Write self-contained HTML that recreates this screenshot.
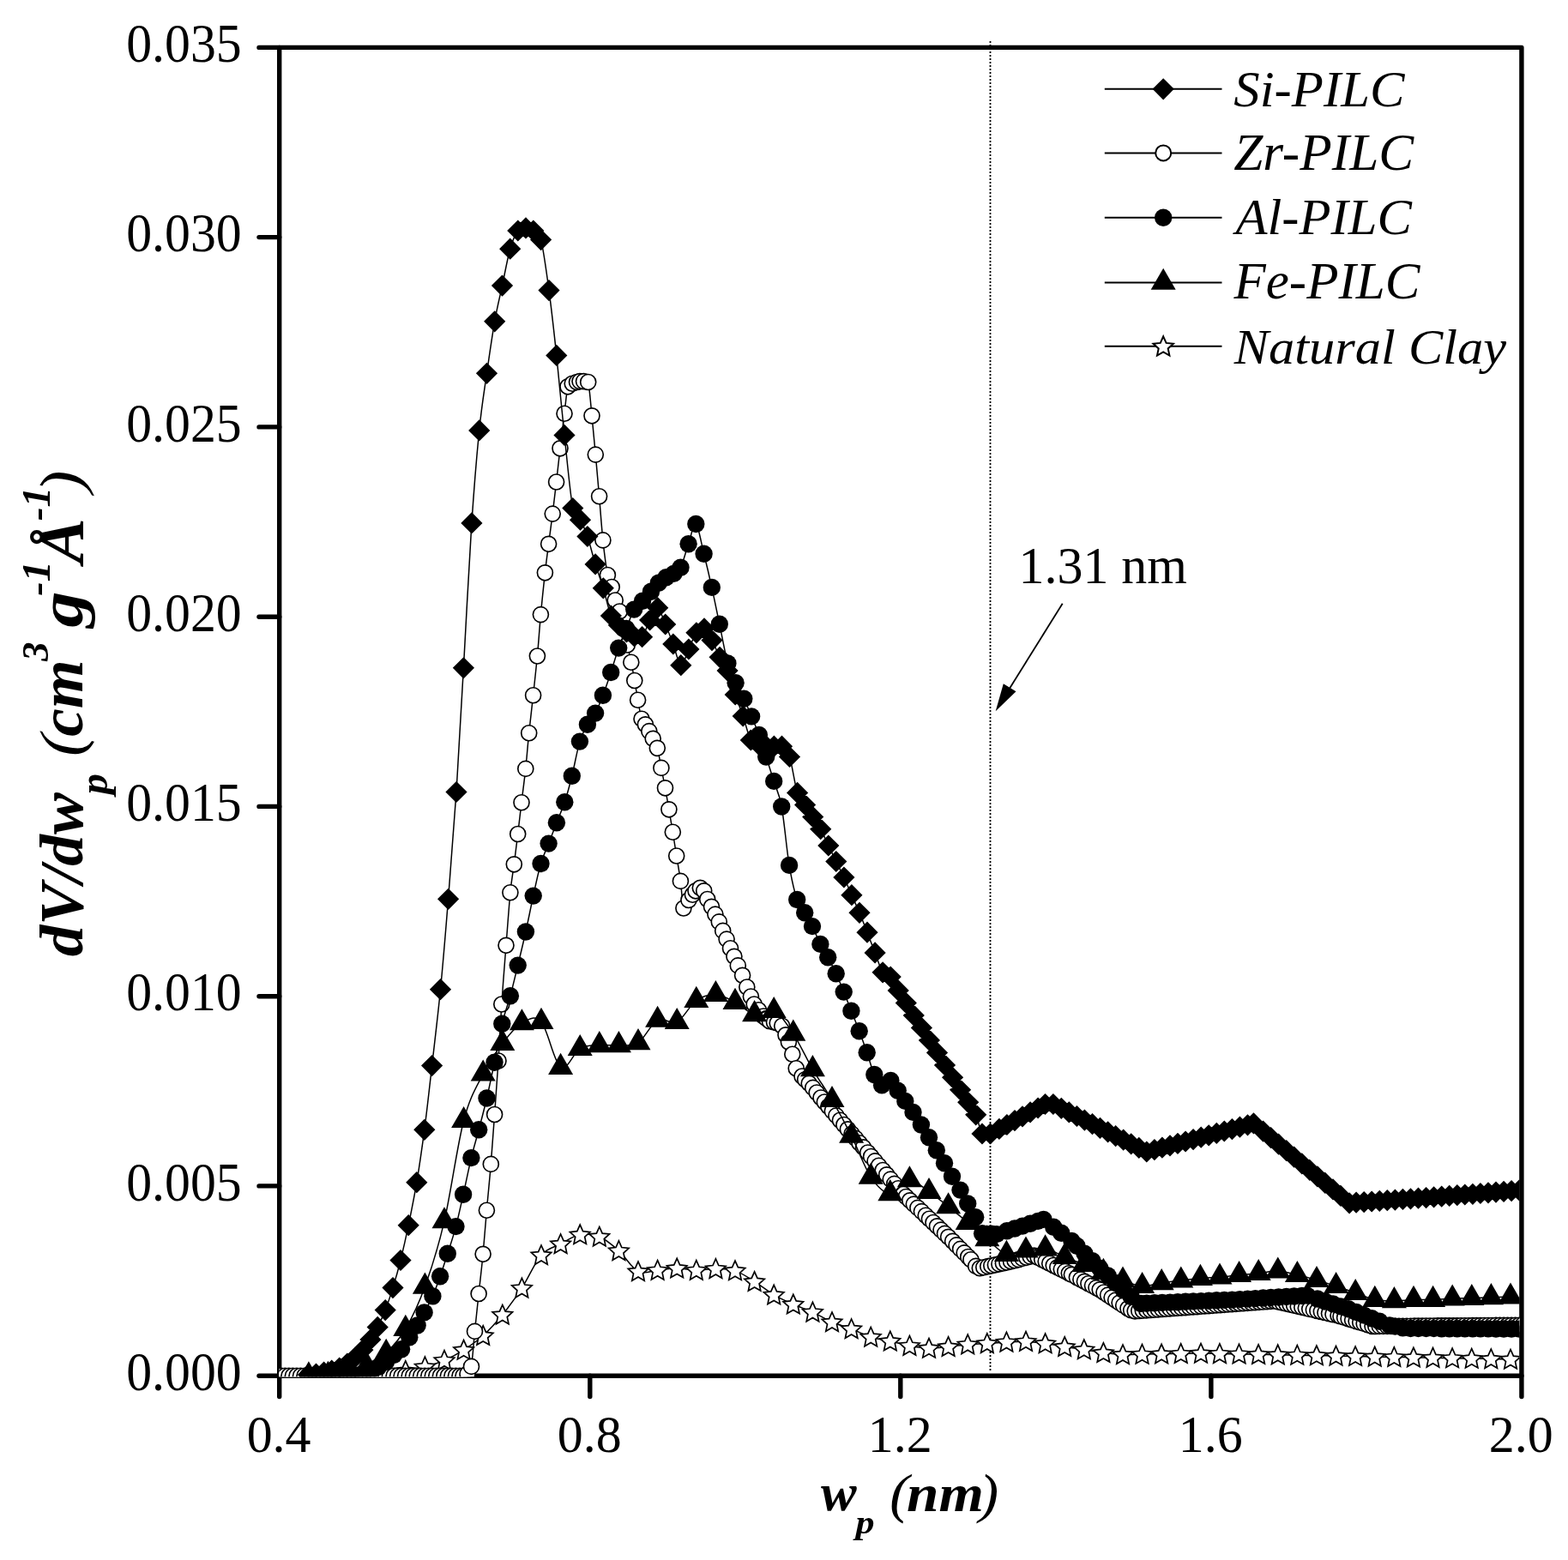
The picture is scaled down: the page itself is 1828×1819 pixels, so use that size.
<!DOCTYPE html>
<html><head><meta charset="utf-8"><title>dV/dw pore size distribution</title><style>
html,body{margin:0;padding:0;background:#fff;}
svg{display:block;}
text{font-family:&quot;Liberation Serif&quot;,&quot;Times New Roman&quot;,serif;fill:#000;}
</style></head><body>
<svg width="1828" height="1819" viewBox="0 0 1828 1819">
<rect width="1828" height="1819" fill="#fff"/>
<line x1="1154.5" y1="48" x2="1154.5" y2="1598" stroke="#000" stroke-width="1.8" stroke-dasharray="2 2"/>
<g stroke="#000" stroke-width="5.4" stroke-linecap="round" fill="none">
<rect x="325.7" y="55.4" width="1448.2" height="1548.8" stroke-linejoin="round"/>
<line x1="302" y1="1604.2" x2="325.7" y2="1604.2"/><line x1="302" y1="1382.9" x2="325.7" y2="1382.9"/><line x1="302" y1="1161.7" x2="325.7" y2="1161.7"/><line x1="302" y1="940.4" x2="325.7" y2="940.4"/><line x1="302" y1="719.2" x2="325.7" y2="719.2"/><line x1="302" y1="497.9" x2="325.7" y2="497.9"/><line x1="302" y1="276.6" x2="325.7" y2="276.6"/><line x1="302" y1="55.4" x2="325.7" y2="55.4"/>
<line x1="325.7" y1="1604.2" x2="325.7" y2="1628.5"/><line x1="687.8" y1="1604.2" x2="687.8" y2="1628.5"/><line x1="1049.8" y1="1604.2" x2="1049.8" y2="1628.5"/><line x1="1411.9" y1="1604.2" x2="1411.9" y2="1628.5"/><line x1="1773.9" y1="1604.2" x2="1773.9" y2="1628.5"/>
</g>
<clipPath id="c"><rect x="325.3" y="55.4" width="1446.2" height="1549.8999999999999"/></clipPath>
<g clip-path="url(#c)"><g fill="none" stroke="#000" stroke-width="1.5"><path d="M472.8 1598.3C476.6 1597.5 487.9 1595.7 495.4 1593.7C502.9 1591.7 510.5 1589.5 518 1586.2C525.5 1582.9 533.1 1578.9 540.6 1574.1C548.1 1569.3 555.7 1564.1 563.2 1557.3C570.7 1550.5 578.3 1542.2 585.8 1533C593.3 1523.8 600.9 1513.5 608.4 1501.9C615.9 1490.3 623.5 1472.1 631 1463.5C638.5 1454.9 646.1 1454.5 653.6 1450.5C661.1 1446.5 668.7 1441 676.2 1439.6C683.7 1438.2 691.3 1438.9 698.8 1442C706.3 1445.1 713.9 1451.7 721.4 1458.4C728.9 1465.2 736.5 1478.7 744 1482.5C751.5 1486.3 759.1 1481.8 766.6 1481.2C774.1 1480.6 781.7 1478.8 789.2 1478.8C796.7 1478.8 804.3 1481.1 811.8 1481.2C819.3 1481.3 826.9 1479.3 834.4 1479.4C841.9 1479.5 849.5 1479.1 857 1481.6C864.5 1484.1 872.1 1489.6 879.6 1494.3C887.1 1499 894.7 1505.4 902.2 1509.8C909.7 1514.2 917.3 1517.4 924.8 1520.8C932.3 1524.2 939.9 1526.5 947.4 1529.9C954.9 1533.4 962.5 1538.2 970 1541.5C977.5 1544.8 985.1 1546.6 992.6 1549.5C1000.1 1552.4 1007.7 1556.6 1015.2 1559C1022.7 1561.4 1030.3 1562.1 1037.8 1563.8C1045.3 1565.5 1052.9 1567.8 1060.4 1569.2C1067.9 1570.6 1075.5 1571.9 1083 1572.1C1090.5 1572.3 1098.1 1571 1105.6 1570.3C1113.1 1569.6 1120.7 1568.3 1128.2 1567.7C1135.7 1567.1 1143.3 1566.9 1150.8 1566.4C1158.3 1565.9 1165.9 1565.3 1173.4 1564.9C1180.9 1564.5 1188.5 1563.9 1196 1564.2C1203.5 1564.5 1211.1 1565.6 1218.6 1566.6C1226.1 1567.6 1233.7 1569.1 1241.2 1570.3C1248.7 1571.5 1256.3 1572.4 1263.8 1573.6C1271.3 1574.8 1278.9 1576.3 1286.4 1577.3C1293.9 1578.3 1301.5 1579.2 1309 1579.5C1316.5 1579.8 1324 1579.3 1331.5 1579.1C1339.1 1579 1346.6 1578.9 1354.1 1578.8C1361.7 1578.6 1369.1 1578.5 1376.7 1578.4C1384.4 1578.3 1392.5 1578 1400 1578C1407.5 1578 1414.5 1578.3 1421.9 1578.4C1429.3 1578.6 1437 1578.7 1444.5 1578.9C1452.1 1579 1459.6 1579.2 1467.1 1579.3C1474.7 1579.4 1482.2 1579.6 1489.7 1579.7C1497.3 1579.9 1504.8 1580 1512.3 1580.2C1519.9 1580.3 1527.4 1580.5 1534.9 1580.6C1542.5 1580.8 1550 1580.9 1557.5 1581.1C1565 1581.2 1572.6 1581.3 1580.1 1581.5C1587.6 1581.6 1595.2 1581.8 1602.7 1581.9C1610.2 1582.1 1617.8 1582.2 1625.3 1582.4C1632.8 1582.5 1640.4 1582.7 1647.9 1582.8C1655.4 1583 1663 1583.1 1670.5 1583.2C1678 1583.4 1685.6 1583.5 1693.1 1583.7C1700.6 1583.8 1708.2 1584 1715.7 1584.1C1723.2 1584.3 1730.8 1584.4 1738.3 1584.6C1745.8 1584.7 1757.2 1584.9 1761 1585"/></g><g fill="#fff" stroke="#000" stroke-width="1.7" stroke-linejoin="miter"><path d="M472.8 1586.8L476.2 1594.4L484.5 1595.3L478.3 1600.9L480 1609.1L472.8 1604.9L465.6 1609.1L467.3 1600.9L461.1 1595.3L469.4 1594.4Z"/><path d="M495.4 1582.2L498.8 1589.8L507.1 1590.7L500.9 1596.3L502.6 1604.5L495.4 1600.3L488.2 1604.5L489.9 1596.3L483.7 1590.7L492 1589.8Z"/><path d="M518 1574.7L521.4 1582.3L529.7 1583.2L523.5 1588.8L525.2 1597L518 1592.8L510.8 1597L512.5 1588.8L506.3 1583.2L514.6 1582.3Z"/><path d="M540.6 1562.6L544 1570.2L552.3 1571.1L546.1 1576.7L547.8 1584.9L540.6 1580.7L533.4 1584.9L535.1 1576.7L528.9 1571.1L537.2 1570.2Z"/><path d="M563.2 1545.8L566.6 1553.4L574.9 1554.3L568.7 1559.9L570.4 1568.1L563.2 1563.9L556 1568.1L557.7 1559.9L551.5 1554.3L559.8 1553.4Z"/><path d="M585.8 1521.5L589.2 1529.1L597.5 1530L591.3 1535.6L593 1543.8L585.8 1539.6L578.6 1543.8L580.3 1535.6L574.1 1530L582.4 1529.1Z"/><path d="M608.4 1490.4L611.8 1498L620.1 1498.9L613.9 1504.5L615.6 1512.7L608.4 1508.5L601.2 1512.7L602.9 1504.5L596.7 1498.9L605 1498Z"/><path d="M631 1452L634.4 1459.6L642.7 1460.5L636.5 1466.1L638.2 1474.3L631 1470.1L623.8 1474.3L625.5 1466.1L619.3 1460.5L627.6 1459.6Z"/><path d="M653.6 1439L657 1446.6L665.3 1447.5L659.1 1453.1L660.8 1461.3L653.6 1457.1L646.4 1461.3L648.1 1453.1L641.9 1447.5L650.2 1446.6Z"/><path d="M676.2 1428.1L679.6 1435.7L687.9 1436.6L681.7 1442.2L683.4 1450.4L676.2 1446.2L669 1450.4L670.7 1442.2L664.5 1436.6L672.8 1435.7Z"/><path d="M698.8 1430.5L702.2 1438.1L710.5 1439L704.3 1444.6L706 1452.8L698.8 1448.6L691.6 1452.8L693.3 1444.6L687.1 1439L695.4 1438.1Z"/><path d="M721.4 1446.9L724.8 1454.5L733.1 1455.4L726.9 1461L728.6 1469.2L721.4 1465L714.2 1469.2L715.9 1461L709.7 1455.4L718 1454.5Z"/><path d="M744 1471L747.4 1478.6L755.7 1479.5L749.5 1485.1L751.2 1493.3L744 1489.1L736.8 1493.3L738.5 1485.1L732.3 1479.5L740.6 1478.6Z"/><path d="M766.6 1469.7L770 1477.3L778.3 1478.2L772.1 1483.8L773.8 1492L766.6 1487.8L759.4 1492L761.1 1483.8L754.9 1478.2L763.2 1477.3Z"/><path d="M789.2 1467.3L792.6 1474.9L800.9 1475.8L794.7 1481.4L796.4 1489.6L789.2 1485.4L782 1489.6L783.7 1481.4L777.5 1475.8L785.8 1474.9Z"/><path d="M811.8 1469.7L815.2 1477.3L823.5 1478.2L817.3 1483.8L819 1492L811.8 1487.8L804.6 1492L806.3 1483.8L800.1 1478.2L808.4 1477.3Z"/><path d="M834.4 1467.9L837.8 1475.5L846.1 1476.4L839.9 1482L841.6 1490.2L834.4 1486L827.2 1490.2L828.9 1482L822.7 1476.4L831 1475.5Z"/><path d="M857 1470.1L860.4 1477.7L868.7 1478.6L862.5 1484.2L864.2 1492.4L857 1488.2L849.8 1492.4L851.5 1484.2L845.3 1478.6L853.6 1477.7Z"/><path d="M879.6 1482.8L883 1490.4L891.3 1491.3L885.1 1496.9L886.8 1505.1L879.6 1500.9L872.4 1505.1L874.1 1496.9L867.9 1491.3L876.2 1490.4Z"/><path d="M902.2 1498.3L905.6 1505.9L913.9 1506.8L907.7 1512.4L909.4 1520.6L902.2 1516.4L895 1520.6L896.7 1512.4L890.5 1506.8L898.8 1505.9Z"/><path d="M924.8 1509.3L928.2 1516.9L936.5 1517.8L930.3 1523.4L932 1531.6L924.8 1527.4L917.6 1531.6L919.3 1523.4L913.1 1517.8L921.4 1516.9Z"/><path d="M947.4 1518.4L950.8 1526L959.1 1526.9L952.9 1532.5L954.6 1540.7L947.4 1536.5L940.2 1540.7L941.9 1532.5L935.7 1526.9L944 1526Z"/><path d="M970 1530L973.4 1537.6L981.7 1538.5L975.5 1544.1L977.2 1552.3L970 1548.1L962.8 1552.3L964.5 1544.1L958.3 1538.5L966.6 1537.6Z"/><path d="M992.6 1538L996 1545.6L1004.3 1546.5L998.1 1552.1L999.8 1560.3L992.6 1556.1L985.4 1560.3L987.1 1552.1L980.9 1546.5L989.2 1545.6Z"/><path d="M1015.2 1547.5L1018.6 1555.1L1026.9 1556L1020.7 1561.6L1022.4 1569.8L1015.2 1565.6L1008 1569.8L1009.7 1561.6L1003.5 1556L1011.8 1555.1Z"/><path d="M1037.8 1552.3L1041.2 1559.9L1049.5 1560.8L1043.3 1566.4L1045 1574.6L1037.8 1570.4L1030.6 1574.6L1032.3 1566.4L1026.1 1560.8L1034.4 1559.9Z"/><path d="M1060.4 1557.7L1063.8 1565.3L1072.1 1566.2L1065.9 1571.8L1067.6 1580L1060.4 1575.8L1053.2 1580L1054.9 1571.8L1048.7 1566.2L1057 1565.3Z"/><path d="M1083 1560.6L1086.4 1568.2L1094.7 1569.1L1088.5 1574.7L1090.2 1582.9L1083 1578.7L1075.8 1582.9L1077.5 1574.7L1071.3 1569.1L1079.6 1568.2Z"/><path d="M1105.6 1558.8L1109 1566.4L1117.3 1567.3L1111.1 1572.9L1112.8 1581.1L1105.6 1576.9L1098.4 1581.1L1100.1 1572.9L1093.9 1567.3L1102.2 1566.4Z"/><path d="M1128.2 1556.2L1131.6 1563.8L1139.9 1564.7L1133.7 1570.3L1135.4 1578.5L1128.2 1574.3L1121 1578.5L1122.7 1570.3L1116.5 1564.7L1124.8 1563.8Z"/><path d="M1150.8 1554.9L1154.2 1562.5L1162.5 1563.4L1156.3 1569L1158 1577.2L1150.8 1573L1143.6 1577.2L1145.3 1569L1139.1 1563.4L1147.4 1562.5Z"/><path d="M1173.4 1553.4L1176.8 1561L1185.1 1561.9L1178.9 1567.5L1180.6 1575.7L1173.4 1571.5L1166.2 1575.7L1167.9 1567.5L1161.7 1561.9L1170 1561Z"/><path d="M1196 1552.7L1199.4 1560.3L1207.7 1561.2L1201.5 1566.8L1203.2 1575L1196 1570.8L1188.8 1575L1190.5 1566.8L1184.3 1561.2L1192.6 1560.3Z"/><path d="M1218.6 1555.1L1222 1562.7L1230.3 1563.6L1224.1 1569.2L1225.8 1577.4L1218.6 1573.2L1211.4 1577.4L1213.1 1569.2L1206.9 1563.6L1215.2 1562.7Z"/><path d="M1241.2 1558.8L1244.6 1566.4L1252.9 1567.3L1246.7 1572.9L1248.4 1581.1L1241.2 1576.9L1234 1581.1L1235.7 1572.9L1229.5 1567.3L1237.8 1566.4Z"/><path d="M1263.8 1562.1L1267.2 1569.7L1275.5 1570.6L1269.3 1576.2L1271 1584.4L1263.8 1580.2L1256.6 1584.4L1258.3 1576.2L1252.1 1570.6L1260.4 1569.7Z"/><path d="M1286.4 1565.8L1289.8 1573.4L1298.1 1574.3L1291.9 1579.9L1293.6 1588.1L1286.4 1583.9L1279.2 1588.1L1280.9 1579.9L1274.7 1574.3L1283 1573.4Z"/><path d="M1309 1568L1312.4 1575.6L1320.7 1576.5L1314.5 1582.1L1316.2 1590.3L1309 1586.1L1301.8 1590.3L1303.5 1582.1L1297.3 1576.5L1305.6 1575.6Z"/><path d="M1331.5 1567.6L1334.9 1575.3L1343.2 1576.1L1337 1581.7L1338.8 1589.9L1331.5 1585.7L1324.3 1589.9L1326 1581.7L1319.8 1576.1L1328.1 1575.3Z"/><path d="M1354.1 1567.3L1357.5 1574.9L1365.8 1575.8L1359.6 1581.3L1361.4 1589.5L1354.1 1585.3L1346.9 1589.5L1348.6 1581.3L1342.4 1575.8L1350.7 1574.9Z"/><path d="M1376.7 1566.9L1380.1 1574.5L1388.4 1575.4L1382.2 1581L1384 1589.1L1376.7 1585L1369.5 1589.1L1371.2 1581L1365 1575.4L1373.3 1574.5Z"/><path d="M1400 1566.5L1403.4 1574.1L1411.7 1575L1405.5 1580.6L1407.2 1588.8L1400 1584.6L1392.8 1588.8L1394.5 1580.6L1388.3 1575L1396.6 1574.1Z"/><path d="M1421.9 1566.9L1425.3 1574.5L1433.6 1575.4L1427.4 1581L1429.2 1589.2L1421.9 1585L1414.7 1589.2L1416.4 1581L1410.2 1575.4L1418.5 1574.5Z"/><path d="M1444.5 1567.4L1447.9 1575L1456.2 1575.9L1450 1581.4L1451.8 1589.6L1444.5 1585.4L1437.3 1589.6L1439 1581.4L1432.8 1575.9L1441.1 1575Z"/><path d="M1467.1 1567.8L1470.5 1575.4L1478.8 1576.3L1472.6 1581.9L1474.4 1590.1L1467.1 1585.9L1459.9 1590.1L1461.6 1581.9L1455.4 1576.3L1463.7 1575.4Z"/><path d="M1489.7 1568.2L1493.1 1575.9L1501.4 1576.7L1495.2 1582.3L1497 1590.5L1489.7 1586.3L1482.5 1590.5L1484.2 1582.3L1478 1576.7L1486.3 1575.9Z"/><path d="M1512.3 1568.7L1515.7 1576.3L1524 1577.2L1517.8 1582.8L1519.5 1590.9L1512.3 1586.8L1505.1 1590.9L1506.8 1582.8L1500.6 1577.2L1508.9 1576.3Z"/><path d="M1534.9 1569.1L1538.3 1576.7L1546.6 1577.6L1540.4 1583.2L1542.1 1591.4L1534.9 1587.2L1527.7 1591.4L1529.4 1583.2L1523.2 1577.6L1531.5 1576.7Z"/><path d="M1557.5 1569.6L1560.9 1577.2L1569.2 1578.1L1563 1583.6L1564.7 1591.8L1557.5 1587.6L1550.3 1591.8L1552 1583.6L1545.8 1578.1L1554.1 1577.2Z"/><path d="M1580.1 1570L1583.5 1577.6L1591.8 1578.5L1585.6 1584.1L1587.3 1592.2L1580.1 1588.1L1572.9 1592.2L1574.6 1584.1L1568.4 1578.5L1576.7 1577.6Z"/><path d="M1602.7 1570.4L1606.1 1578.1L1614.4 1578.9L1608.2 1584.5L1609.9 1592.7L1602.7 1588.5L1595.5 1592.7L1597.2 1584.5L1591 1578.9L1599.3 1578.1Z"/><path d="M1625.3 1570.9L1628.7 1578.5L1637 1579.4L1630.8 1585L1632.5 1593.1L1625.3 1588.9L1618.1 1593.1L1619.8 1585L1613.6 1579.4L1621.9 1578.5Z"/><path d="M1647.9 1571.3L1651.3 1578.9L1659.6 1579.8L1653.4 1585.4L1655.1 1593.6L1647.9 1589.4L1640.7 1593.6L1642.4 1585.4L1636.2 1579.8L1644.5 1578.9Z"/><path d="M1670.5 1571.7L1673.9 1579.4L1682.2 1580.2L1676 1585.8L1677.7 1594L1670.5 1589.8L1663.3 1594L1665 1585.8L1658.8 1580.2L1667.1 1579.4Z"/><path d="M1693.1 1572.2L1696.5 1579.8L1704.8 1580.7L1698.6 1586.3L1700.3 1594.4L1693.1 1590.3L1685.9 1594.4L1687.6 1586.3L1681.4 1580.7L1689.7 1579.8Z"/><path d="M1715.7 1572.6L1719.1 1580.2L1727.4 1581.1L1721.2 1586.7L1722.9 1594.9L1715.7 1590.7L1708.5 1594.9L1710.2 1586.7L1704 1581.1L1712.3 1580.2Z"/><path d="M1738.3 1573.1L1741.7 1580.7L1750 1581.6L1743.8 1587.1L1745.5 1595.3L1738.3 1591.1L1731.1 1595.3L1732.8 1587.1L1726.6 1581.6L1734.9 1580.7Z"/><path d="M1761 1573.5L1764.4 1581.1L1772.7 1582L1766.5 1587.6L1768.2 1595.8L1761 1591.6L1753.8 1595.8L1755.5 1587.6L1749.3 1582L1757.6 1581.1Z"/></g><g fill="none" stroke="#000" stroke-width="1.5"><path d="M327.9 1604.2C328.6 1604.2 330.9 1604.2 332.4 1604.2C333.9 1604.2 335.4 1604.2 336.9 1604.2C338.4 1604.2 339.9 1604.2 341.4 1604.2C342.9 1604.2 344.4 1604.2 346 1604.2C347.5 1604.2 349 1604.2 350.5 1604.2C352 1604.2 353.5 1604.2 355 1604.2C356.5 1604.2 358 1604.2 359.5 1604.2C361 1604.2 362.5 1604.2 364 1604.2C365.6 1604.2 367.1 1604.2 368.6 1604.2C370.1 1604.2 371.6 1604.2 373.1 1604.2C374.6 1604.2 376.1 1604.2 377.6 1604.2C379.1 1604.2 380.6 1604.2 382.1 1604.2C383.7 1604.2 385.2 1604.2 386.7 1604.2C388.2 1604.2 389.7 1604.2 391.2 1604.2C392.7 1604.2 394.2 1604.2 395.7 1604.2C397.2 1604.2 398.7 1604.2 400.2 1604.2C401.8 1604.2 403.3 1604.2 404.8 1604.2C406.3 1604.2 407.8 1604.2 409.3 1604.2C410.8 1604.2 412.3 1604.2 413.8 1604.2C415.3 1604.2 416.8 1604.2 418.3 1604.2C419.9 1604.2 421.4 1604.2 422.9 1604.2C424.4 1604.2 425.9 1604.2 427.4 1604.2C428.9 1604.2 430.4 1604.2 431.9 1604.2C433.4 1604.2 434.9 1604.2 436.4 1604.2C437.9 1604.2 439.5 1604.2 441 1604.2C442.5 1604.2 444 1604.2 445.5 1604.2C447 1604.2 448.5 1604.2 450 1604.2C451.5 1604.2 453 1604.2 454.5 1604.2C456 1604.2 457.6 1604.2 459.1 1604.2C460.6 1604.2 462.1 1604.2 463.6 1604.2C465.1 1604.2 466.6 1604.2 468.1 1604.2C469.6 1604.2 471.1 1604.2 472.6 1604.2C474.1 1604.2 475.7 1604.2 477.2 1604.2C478.7 1604.2 480.2 1604.2 481.7 1604.2C483.2 1604.2 484.7 1604.2 486.2 1604.2C487.7 1604.2 489.2 1604.2 490.7 1604.2C492.2 1604.2 493.8 1604.2 495.3 1604.2C496.8 1604.2 498.3 1604.2 499.8 1604.2C501.3 1604.2 502.8 1604.2 504.3 1604.2C505.8 1604.2 507.3 1604.2 508.8 1604.2C510.3 1604.2 511.8 1604.2 513.4 1604.2C514.9 1604.2 516.4 1604.2 517.9 1604.2C519.4 1604.2 520.9 1604.2 522.4 1604.2C523.9 1604.2 525.4 1604.2 526.9 1604.2C528.4 1604.2 529.9 1604.2 531.5 1604.2C533 1604.2 534.6 1604.2 536 1604.2C537.4 1604.2 538.5 1604.6 540 1604.2C541.5 1603.8 543.4 1603.8 545 1602C546.6 1600.2 548.1 1601.7 549.5 1593.4C550.9 1585.1 552.1 1566.6 553.5 1552.4C554.9 1538.2 556.5 1523.5 558.1 1508.5C559.7 1493.5 561.6 1478.5 563.1 1462.3C564.6 1446.1 565.9 1428.7 567.4 1411.2C568.9 1393.7 570.8 1376 572.3 1357.4C573.8 1338.8 575.1 1319.6 576.6 1299.5C578.1 1279.4 579.6 1258.4 581 1237C582.4 1215.6 583.3 1193.5 584.8 1171C586.3 1148.5 588.3 1124 590 1102.3C591.7 1080.6 593.4 1056.5 594.9 1040.7C596.4 1025 597.8 1019.2 599.3 1007.8C600.8 996.4 602.2 984.5 603.7 972.5C605.2 960.5 606.5 948.4 608 935.7C609.5 923 611.3 909.9 612.8 896.4C614.2 882.9 615.2 869 616.7 854.7C618.2 840.4 620 825.7 621.6 810.7C623.2 795.8 624.9 780.7 626.4 765C627.9 749.3 628.9 732.8 630.4 716.6C631.9 700.4 633.9 681.5 635.4 667.8C636.9 654.1 638.1 645.8 639.6 634.3C641.1 622.8 642.7 611.1 644.2 599.1C645.7 587.1 647.1 574.7 648.6 562C650.1 549.3 651.4 536.1 653 522.8C654.6 509.5 656.5 494.2 658 482.2C659.5 470.2 660.5 456.6 662 450.8C663.5 445 665.4 448.1 667.2 447.2C668.9 446.3 671 445.9 672.5 445.5C674 445.1 674.7 444.8 676 444.6C677.3 444.5 678.9 444.5 680.5 444.6C682.1 444.8 684.1 438.8 685.7 445.5C687.3 452.2 688.6 470.7 690 484.8C691.4 498.9 692.9 514.5 694.3 530.1C695.7 545.8 697.2 562.1 698.6 578.7C700 595.3 701.3 614.6 702.9 629.9C704.5 645.2 706.7 661.4 708.4 670.5C710.1 679.6 711.7 679.6 713.2 684.5C714.7 689.4 715.7 695.2 717.2 700C718.7 704.8 720.7 707.5 722.3 713C723.9 718.5 725.3 726.5 726.8 733C728.3 739.5 729.8 745.5 731.3 752C732.8 758.5 734.4 765.3 735.8 772.2C737.2 779.1 738.5 786.2 739.8 793.5C741.1 800.8 742.2 808.8 743.6 816.2C745 823.7 746.5 833.4 748 838.2C749.5 843 750.9 842.4 752.4 844.8C753.9 847.2 755.3 849.9 756.8 852.6C758.3 855.4 759.6 858 761.2 861.3C762.8 864.6 764.7 866.6 766.3 872.3C767.9 878 769.4 887.6 770.9 895.4C772.4 903.1 774 910.7 775.5 918.8C777 926.9 778.4 935.2 779.9 943.8C781.4 952.4 782.8 961.2 784.3 970.2C785.8 979.2 787.2 988.5 788.7 998C790.2 1007.5 792 1017.2 793.4 1027.4C794.8 1037.6 795.3 1055.3 796.9 1059C798.5 1062.7 801.2 1052.2 802.9 1049.5C804.7 1046.9 806.1 1045 807.4 1043.2C808.8 1041.4 809.5 1040.1 811 1038.8C812.5 1037.5 814.7 1035.3 816.3 1035.3C817.9 1035.3 819.3 1036.6 820.7 1038.8C822.1 1041 823.2 1045.4 824.7 1048.5C826.2 1051.6 828 1054.4 829.5 1057.3C831 1060.2 832.4 1063.2 833.9 1066.1C835.4 1069 836.8 1071.7 838.3 1074.9C839.8 1078.1 841.2 1082 842.7 1085.4C844.2 1088.8 845.6 1091.7 847.1 1095.1C848.6 1098.5 850 1102.3 851.5 1105.7C853 1109.1 854.4 1111.9 855.9 1115.3C857.4 1118.7 858.7 1122.2 860.3 1125.9C861.9 1129.6 863.9 1133.1 865.6 1137.3C867.4 1141.5 869.2 1146.9 870.8 1151C872.4 1155.1 874 1158.7 875.4 1162C876.8 1165.3 877.7 1168.4 879.2 1171C880.7 1173.6 882.6 1175.4 884.4 1177.7C886.2 1180 888.5 1183.3 890 1185C891.5 1186.7 892.2 1186.7 893.4 1187.6C894.6 1188.6 895.9 1190 897.4 1190.7C898.9 1191.4 901 1191.6 902.5 1192C903.9 1192.4 904.7 1192.3 906.2 1193C907.7 1193.7 910.1 1193.9 911.7 1196.2C913.3 1198.5 914.8 1203.7 916 1206.8C917.3 1209.9 918.1 1211.3 919.4 1215C920.7 1218.7 922.3 1224.1 923.8 1229.2C925.3 1234.3 926.3 1241.4 928.2 1245.7C930.1 1250 933.3 1252.8 935 1255C936.7 1257.2 937.3 1257.3 938.7 1258.7C940 1260 941.7 1261.6 943.2 1263.2C944.7 1264.8 946.2 1266.6 947.7 1268.4C949.2 1270.2 950.7 1272.1 952.2 1274C953.8 1276 955.5 1278.2 957 1280C958.5 1281.8 959.8 1283.3 961.3 1285C962.8 1286.7 964.3 1288.5 965.8 1290.3C967.3 1292.1 968.8 1293.8 970.3 1295.6C971.8 1297.4 973.3 1299.1 974.9 1300.9C976.4 1302.7 977.9 1304.4 979.4 1306.2C980.9 1308 982.4 1309.7 983.9 1311.5C985.4 1313.2 986.9 1315 988.4 1316.8C989.9 1318.5 991.4 1320.3 993 1322.1C994.5 1323.8 996 1325.6 997.5 1327.4C999 1329.1 1000.5 1330.9 1002 1332.7C1003.5 1334.4 1004.9 1336.1 1006.5 1337.9C1008.1 1339.8 1010.2 1342.2 1011.7 1344C1013.2 1345.8 1014.2 1346.9 1015.6 1348.5C1017 1350.2 1018.6 1352.1 1020.1 1353.9C1021.6 1355.6 1023.1 1357.4 1024.6 1359.2C1026.1 1360.9 1027.6 1362.7 1029.2 1364.5C1030.7 1366.2 1032.2 1368 1033.7 1369.8C1035.2 1371.5 1036.7 1373.3 1038.2 1375.1C1039.7 1376.8 1041.2 1378.6 1042.7 1380.4C1044.2 1382.2 1045.6 1383.7 1047.2 1385.7C1048.9 1387.7 1051.3 1390.6 1052.8 1392.2C1054.3 1393.8 1055 1394.2 1056.3 1395.5C1057.6 1396.8 1059.3 1398.4 1060.8 1399.8C1062.3 1401.2 1063.8 1402.7 1065.3 1404.1C1066.9 1405.5 1068.4 1406.9 1069.9 1408.4C1071.4 1409.8 1072.8 1411.2 1074.4 1412.6C1075.9 1414.1 1077.7 1415.8 1079.2 1417.2C1080.7 1418.6 1082 1419.8 1083.4 1421.2C1084.9 1422.6 1086.5 1424.1 1088 1425.5C1089.5 1427 1091 1428.4 1092.5 1429.8C1094 1431.3 1095.5 1432.7 1097 1434.1C1098.5 1435.6 1100.1 1437.1 1101.5 1438.4C1103 1439.8 1104.1 1440.8 1105.6 1442.3C1107.1 1443.8 1109 1445.7 1110.6 1447.3C1112.2 1448.9 1113.6 1450.3 1115.1 1451.9C1116.6 1453.4 1118.1 1454.9 1119.6 1456.4C1121.1 1457.9 1122.7 1459.4 1124.2 1460.9C1125.7 1462.4 1127.4 1464.2 1128.7 1465.5C1130 1466.8 1130.4 1466.9 1131.9 1468.7C1133.4 1470.5 1136 1474.7 1137.7 1476.4C1139.5 1478 1140.8 1478.5 1142.3 1478.7C1143.8 1478.9 1145.2 1478 1146.8 1477.7C1148.4 1477.3 1150.2 1476.9 1151.7 1476.6C1153.2 1476.3 1154.4 1476.1 1155.8 1475.8C1157.3 1475.5 1158.9 1475.2 1160.4 1474.9C1161.9 1474.5 1163.4 1474.2 1164.9 1473.9C1166.4 1473.6 1167.9 1473.3 1169.4 1473C1170.9 1472.7 1172.4 1472.3 1173.9 1472C1175.4 1471.6 1177 1471.2 1178.5 1470.8C1180 1470.5 1181.5 1470.1 1183 1469.7C1184.5 1469.3 1186 1468.9 1187.5 1468.6C1189 1468.2 1190.5 1467.8 1192 1467.4C1193.5 1467 1195 1466.7 1196.6 1466.3C1198.1 1465.9 1199.6 1465.5 1201.1 1465.1C1202.6 1464.8 1204.1 1463.8 1205.6 1464C1207.1 1464.2 1208.6 1465.5 1210.1 1466.3C1211.6 1467.1 1213.1 1467.8 1214.7 1468.6C1216.2 1469.4 1217.7 1470.1 1219.2 1470.9C1220.7 1471.7 1222.2 1472.4 1223.7 1473.2C1225.2 1474 1226.7 1474.8 1228.2 1475.5C1229.7 1476.3 1231.2 1477.1 1232.8 1477.8C1234.3 1478.6 1235.8 1479.4 1237.3 1480.1C1238.8 1480.9 1240.3 1481.7 1241.8 1482.4C1243.3 1483.2 1245.1 1484.1 1246.3 1484.7C1247.6 1485.4 1247.9 1485.5 1249.4 1486.3C1250.9 1487.1 1253.6 1488.6 1255.4 1489.5C1257.1 1490.4 1258.4 1491.1 1259.9 1491.9C1261.4 1492.7 1262.9 1493.5 1264.4 1494.3C1265.9 1495.1 1267.4 1495.9 1268.9 1496.7C1270.5 1497.5 1272 1498.3 1273.5 1499.1C1275 1499.9 1276.5 1500.8 1278 1501.6C1279.5 1502.3 1280.7 1502.9 1282.2 1503.8C1283.7 1504.7 1285.5 1506 1287 1507C1288.6 1508.1 1290.1 1509 1291.6 1510.1C1293.1 1511.1 1294.6 1512.1 1296.1 1513.1C1297.6 1514.1 1299.1 1515.1 1300.6 1516.1C1302.1 1517.1 1303.6 1518.1 1305.1 1519.1C1306.7 1520.1 1308 1521 1309.7 1522.1C1311.3 1523.2 1313.5 1524.8 1315 1525.7C1316.5 1526.6 1317.3 1527.2 1318.7 1527.7C1320.1 1528.3 1321.7 1528.7 1323.2 1528.8C1324.8 1529 1326.3 1528.6 1327.8 1528.5C1329.3 1528.4 1330.8 1528.3 1332.3 1528.2C1333.8 1528.1 1335.3 1528 1336.8 1527.8C1338.3 1527.7 1339.8 1527.6 1341.3 1527.5C1342.8 1527.4 1344.4 1527.3 1345.9 1527.2C1347.4 1527.1 1348.9 1527 1350.4 1526.9C1351.9 1526.8 1353.4 1526.6 1354.9 1526.5C1356.4 1526.4 1357.9 1526.3 1359.4 1526.2C1360.9 1526.1 1362.5 1526 1364 1525.9C1365.5 1525.8 1367 1525.7 1368.5 1525.5C1370 1525.4 1371.5 1525.3 1373 1525.2C1374.5 1525.1 1376 1525 1377.5 1524.9C1379 1524.8 1380.6 1524.7 1382.1 1524.6C1383.6 1524.4 1385.1 1524.3 1386.6 1524.2C1388.1 1524.1 1389.6 1524 1391.1 1523.9C1392.6 1523.8 1394.1 1523.7 1395.6 1523.6C1397.1 1523.5 1398.7 1523.4 1400.2 1523.2C1401.7 1523.1 1403.2 1523 1404.7 1522.9C1406.2 1522.8 1407.7 1522.7 1409.2 1522.6C1410.7 1522.5 1412.2 1522.4 1413.7 1522.3C1415.2 1522.1 1416.7 1522 1418.3 1521.9C1419.8 1521.8 1421.3 1521.7 1422.8 1521.6C1424.3 1521.5 1425.8 1521.4 1427.3 1521.3C1428.8 1521.2 1430.3 1521 1431.8 1520.9C1433.3 1520.8 1434.8 1520.7 1436.4 1520.6C1437.9 1520.5 1439.4 1520.4 1440.9 1520.3C1442.4 1520.2 1443.9 1520.1 1445.4 1520C1446.9 1519.8 1448.4 1519.7 1449.9 1519.6C1451.4 1519.5 1452.9 1519.4 1454.5 1519.3C1456 1519.2 1457.5 1519.1 1459 1519C1460.5 1518.9 1462 1518.7 1463.5 1518.6C1465 1518.5 1466.5 1518.4 1468 1518.3C1469.5 1518.2 1471 1518.1 1472.6 1518C1474.1 1517.9 1475.6 1517.8 1477.1 1517.6C1478.6 1517.5 1480.1 1517.4 1481.6 1517.3C1483.1 1517.2 1484.5 1516.9 1486 1517C1487.5 1517.1 1489.1 1517.7 1490.6 1518.1C1492.2 1518.4 1493.7 1518.8 1495.2 1519.1C1496.7 1519.5 1498.2 1519.8 1499.7 1520.1C1501.2 1520.5 1502.7 1520.8 1504.2 1521.2C1505.7 1521.5 1507.2 1521.9 1508.7 1522.2C1510.3 1522.6 1511.8 1522.9 1513.3 1523.3C1514.8 1523.6 1516.3 1524 1517.8 1524.3C1519.3 1524.7 1520.8 1525 1522.3 1525.3C1523.8 1525.7 1525.3 1526 1526.8 1526.4C1528.4 1526.7 1529.9 1527.1 1531.4 1527.4C1532.9 1527.8 1534.4 1528.1 1535.9 1528.5C1537.4 1528.8 1538.9 1529.2 1540.4 1529.5C1541.9 1529.8 1543.4 1530.2 1544.9 1530.5C1546.5 1530.9 1548 1531.2 1549.5 1531.6C1551 1531.9 1552.2 1532.2 1554 1532.6C1555.7 1533 1558.5 1533.6 1560 1534C1561.5 1534.4 1561.8 1534.6 1563 1535C1564.3 1535.3 1566.1 1535.9 1567.6 1536.4C1569.1 1536.8 1570.6 1537.3 1572.1 1537.8C1573.6 1538.2 1575.1 1538.7 1576.6 1539.2C1578.1 1539.7 1579.6 1540.1 1581.1 1540.6C1582.6 1541.1 1584.2 1541.5 1585.7 1542C1587.2 1542.5 1588.7 1543 1590.2 1543.4C1591.7 1543.9 1593.1 1544.3 1594.7 1544.8C1596.3 1545.4 1598.5 1546.2 1600 1546.5C1601.5 1546.8 1602.4 1546.5 1603.8 1546.5C1605.1 1546.5 1606.8 1546.4 1608.3 1546.4C1609.8 1546.4 1611.3 1546.4 1612.8 1546.4C1614.3 1546.4 1615.8 1546.4 1617.3 1546.4C1618.8 1546.4 1620.4 1546.3 1621.9 1546.3C1623.4 1546.3 1624.9 1546.3 1626.4 1546.3C1627.9 1546.3 1629.4 1546.3 1630.9 1546.3C1632.4 1546.3 1633.9 1546.2 1635.4 1546.2C1636.9 1546.2 1638.4 1546.2 1640 1546.2C1641.5 1546.2 1643 1546.2 1644.5 1546.2C1646 1546.2 1647.5 1546.1 1649 1546.1C1650.5 1546.1 1652 1546.1 1653.5 1546.1C1655 1546.1 1656.5 1546.1 1658.1 1546.1C1659.6 1546.1 1661.1 1546 1662.6 1546C1664.1 1546 1665.6 1546 1667.1 1546C1668.6 1546 1670.1 1546 1671.6 1546C1673.1 1546 1674.6 1545.9 1676.2 1545.9C1677.7 1545.9 1679.2 1545.9 1680.7 1545.9C1682.2 1545.9 1683.7 1545.9 1685.2 1545.9C1686.7 1545.9 1688.2 1545.8 1689.7 1545.8C1691.2 1545.8 1692.7 1545.8 1694.3 1545.8C1695.8 1545.8 1697.3 1545.8 1698.8 1545.8C1700.3 1545.8 1701.8 1545.7 1703.3 1545.7C1704.8 1545.7 1706.3 1545.7 1707.8 1545.7C1709.3 1545.7 1710.8 1545.7 1712.3 1545.7C1713.9 1545.7 1715.4 1545.6 1716.9 1545.6C1718.4 1545.6 1719.9 1545.6 1721.4 1545.6C1722.9 1545.6 1724.4 1545.6 1725.9 1545.6C1727.4 1545.6 1728.9 1545.5 1730.4 1545.5C1732 1545.5 1733.5 1545.5 1735 1545.5C1736.5 1545.5 1738 1545.5 1739.5 1545.5C1741 1545.5 1742.5 1545.4 1744 1545.4C1745.5 1545.4 1747 1545.4 1748.5 1545.4C1750.1 1545.4 1751.6 1545.4 1753.1 1545.4C1754.6 1545.4 1756.1 1545.3 1757.6 1545.3C1759.1 1545.3 1760.6 1545.3 1762.1 1545.3C1763.6 1545.3 1765.1 1545.3 1766.6 1545.3C1768.2 1545.3 1769.8 1545.2 1771.2 1545.2C1772.6 1545.2 1774.4 1545.2 1775 1545.2"/></g><g fill="#fff" stroke="#000" stroke-width="1.65"><circle cx="327.9" cy="1604.2" r="9.0"/><circle cx="332.4" cy="1604.2" r="9.0"/><circle cx="336.9" cy="1604.2" r="9.0"/><circle cx="341.4" cy="1604.2" r="9.0"/><circle cx="346" cy="1604.2" r="9.0"/><circle cx="350.5" cy="1604.2" r="9.0"/><circle cx="355" cy="1604.2" r="9.0"/><circle cx="359.5" cy="1604.2" r="9.0"/><circle cx="364" cy="1604.2" r="9.0"/><circle cx="368.6" cy="1604.2" r="9.0"/><circle cx="373.1" cy="1604.2" r="9.0"/><circle cx="377.6" cy="1604.2" r="9.0"/><circle cx="382.1" cy="1604.2" r="9.0"/><circle cx="386.7" cy="1604.2" r="9.0"/><circle cx="391.2" cy="1604.2" r="9.0"/><circle cx="395.7" cy="1604.2" r="9.0"/><circle cx="400.2" cy="1604.2" r="9.0"/><circle cx="404.8" cy="1604.2" r="9.0"/><circle cx="409.3" cy="1604.2" r="9.0"/><circle cx="413.8" cy="1604.2" r="9.0"/><circle cx="418.3" cy="1604.2" r="9.0"/><circle cx="422.9" cy="1604.2" r="9.0"/><circle cx="427.4" cy="1604.2" r="9.0"/><circle cx="431.9" cy="1604.2" r="9.0"/><circle cx="436.4" cy="1604.2" r="9.0"/><circle cx="441" cy="1604.2" r="9.0"/><circle cx="445.5" cy="1604.2" r="9.0"/><circle cx="450" cy="1604.2" r="9.0"/><circle cx="454.5" cy="1604.2" r="9.0"/><circle cx="459.1" cy="1604.2" r="9.0"/><circle cx="463.6" cy="1604.2" r="9.0"/><circle cx="468.1" cy="1604.2" r="9.0"/><circle cx="472.6" cy="1604.2" r="9.0"/><circle cx="477.2" cy="1604.2" r="9.0"/><circle cx="481.7" cy="1604.2" r="9.0"/><circle cx="486.2" cy="1604.2" r="9.0"/><circle cx="490.7" cy="1604.2" r="9.0"/><circle cx="495.3" cy="1604.2" r="9.0"/><circle cx="499.8" cy="1604.2" r="9.0"/><circle cx="504.3" cy="1604.2" r="9.0"/><circle cx="508.8" cy="1604.2" r="9.0"/><circle cx="513.4" cy="1604.2" r="9.0"/><circle cx="517.9" cy="1604.2" r="9.0"/><circle cx="522.4" cy="1604.2" r="9.0"/><circle cx="526.9" cy="1604.2" r="9.0"/><circle cx="531.5" cy="1604.2" r="9.0"/><circle cx="536" cy="1604.2" r="9.0"/><circle cx="540" cy="1604.2" r="9.0"/><circle cx="545" cy="1602" r="9.0"/><circle cx="549.5" cy="1593.4" r="9.0"/><circle cx="553.5" cy="1552.4" r="9.0"/><circle cx="558.1" cy="1508.5" r="9.0"/><circle cx="563.1" cy="1462.3" r="9.0"/><circle cx="567.4" cy="1411.2" r="9.0"/><circle cx="572.3" cy="1357.4" r="9.0"/><circle cx="576.6" cy="1299.5" r="9.0"/><circle cx="581" cy="1237" r="9.0"/><circle cx="584.8" cy="1171" r="9.0"/><circle cx="590" cy="1102.3" r="9.0"/><circle cx="594.9" cy="1040.7" r="9.0"/><circle cx="599.3" cy="1007.8" r="9.0"/><circle cx="603.7" cy="972.5" r="9.0"/><circle cx="608" cy="935.7" r="9.0"/><circle cx="612.8" cy="896.4" r="9.0"/><circle cx="616.7" cy="854.7" r="9.0"/><circle cx="621.6" cy="810.7" r="9.0"/><circle cx="626.4" cy="765" r="9.0"/><circle cx="630.4" cy="716.6" r="9.0"/><circle cx="635.4" cy="667.8" r="9.0"/><circle cx="639.6" cy="634.3" r="9.0"/><circle cx="644.2" cy="599.1" r="9.0"/><circle cx="648.6" cy="562" r="9.0"/><circle cx="653" cy="522.8" r="9.0"/><circle cx="658" cy="482.2" r="9.0"/><circle cx="662" cy="450.8" r="9.0"/><circle cx="667.2" cy="447.2" r="9.0"/><circle cx="672.5" cy="445.5" r="9.0"/><circle cx="676" cy="444.6" r="9.0"/><circle cx="680.5" cy="444.6" r="9.0"/><circle cx="685.7" cy="445.5" r="9.0"/><circle cx="690" cy="484.8" r="9.0"/><circle cx="694.3" cy="530.1" r="9.0"/><circle cx="698.6" cy="578.7" r="9.0"/><circle cx="702.9" cy="629.9" r="9.0"/><circle cx="708.4" cy="670.5" r="9.0"/><circle cx="713.2" cy="684.5" r="9.0"/><circle cx="717.2" cy="700" r="9.0"/><circle cx="722.3" cy="713" r="9.0"/><circle cx="726.8" cy="733" r="9.0"/><circle cx="731.3" cy="752" r="9.0"/><circle cx="735.8" cy="772.2" r="9.0"/><circle cx="739.8" cy="793.5" r="9.0"/><circle cx="743.6" cy="816.2" r="9.0"/><circle cx="748" cy="838.2" r="9.0"/><circle cx="752.4" cy="844.8" r="9.0"/><circle cx="756.8" cy="852.6" r="9.0"/><circle cx="761.2" cy="861.3" r="9.0"/><circle cx="766.3" cy="872.3" r="9.0"/><circle cx="770.9" cy="895.4" r="9.0"/><circle cx="775.5" cy="918.8" r="9.0"/><circle cx="779.9" cy="943.8" r="9.0"/><circle cx="784.3" cy="970.2" r="9.0"/><circle cx="788.7" cy="998" r="9.0"/><circle cx="793.4" cy="1027.4" r="9.0"/><circle cx="796.9" cy="1059" r="9.0"/><circle cx="802.9" cy="1049.5" r="9.0"/><circle cx="807.4" cy="1043.2" r="9.0"/><circle cx="811" cy="1038.8" r="9.0"/><circle cx="816.3" cy="1035.3" r="9.0"/><circle cx="820.7" cy="1038.8" r="9.0"/><circle cx="824.7" cy="1048.5" r="9.0"/><circle cx="829.5" cy="1057.3" r="9.0"/><circle cx="833.9" cy="1066.1" r="9.0"/><circle cx="838.3" cy="1074.9" r="9.0"/><circle cx="842.7" cy="1085.4" r="9.0"/><circle cx="847.1" cy="1095.1" r="9.0"/><circle cx="851.5" cy="1105.7" r="9.0"/><circle cx="855.9" cy="1115.3" r="9.0"/><circle cx="860.3" cy="1125.9" r="9.0"/><circle cx="865.6" cy="1137.3" r="9.0"/><circle cx="870.8" cy="1151" r="9.0"/><circle cx="875.4" cy="1162" r="9.0"/><circle cx="879.2" cy="1171" r="9.0"/><circle cx="884.4" cy="1177.7" r="9.0"/><circle cx="890" cy="1185" r="9.0"/><circle cx="893.4" cy="1187.6" r="9.0"/><circle cx="897.4" cy="1190.7" r="9.0"/><circle cx="902.5" cy="1192" r="9.0"/><circle cx="906.2" cy="1193" r="9.0"/><circle cx="911.7" cy="1196.2" r="9.0"/><circle cx="916" cy="1206.8" r="9.0"/><circle cx="919.4" cy="1215" r="9.0"/><circle cx="923.8" cy="1229.2" r="9.0"/><circle cx="928.2" cy="1245.7" r="9.0"/><circle cx="935" cy="1255" r="9.0"/><circle cx="938.7" cy="1258.7" r="9.0"/><circle cx="943.2" cy="1263.2" r="9.0"/><circle cx="947.7" cy="1268.4" r="9.0"/><circle cx="952.2" cy="1274" r="9.0"/><circle cx="957" cy="1280" r="9.0"/><circle cx="961.3" cy="1285" r="9.0"/><circle cx="965.8" cy="1290.3" r="9.0"/><circle cx="970.3" cy="1295.6" r="9.0"/><circle cx="974.9" cy="1300.9" r="9.0"/><circle cx="979.4" cy="1306.2" r="9.0"/><circle cx="983.9" cy="1311.5" r="9.0"/><circle cx="988.4" cy="1316.8" r="9.0"/><circle cx="993" cy="1322.1" r="9.0"/><circle cx="997.5" cy="1327.4" r="9.0"/><circle cx="1002" cy="1332.7" r="9.0"/><circle cx="1006.5" cy="1337.9" r="9.0"/><circle cx="1011.7" cy="1344" r="9.0"/><circle cx="1015.6" cy="1348.5" r="9.0"/><circle cx="1020.1" cy="1353.9" r="9.0"/><circle cx="1024.6" cy="1359.2" r="9.0"/><circle cx="1029.2" cy="1364.5" r="9.0"/><circle cx="1033.7" cy="1369.8" r="9.0"/><circle cx="1038.2" cy="1375.1" r="9.0"/><circle cx="1042.7" cy="1380.4" r="9.0"/><circle cx="1047.2" cy="1385.7" r="9.0"/><circle cx="1052.8" cy="1392.2" r="9.0"/><circle cx="1056.3" cy="1395.5" r="9.0"/><circle cx="1060.8" cy="1399.8" r="9.0"/><circle cx="1065.3" cy="1404.1" r="9.0"/><circle cx="1069.9" cy="1408.4" r="9.0"/><circle cx="1074.4" cy="1412.6" r="9.0"/><circle cx="1079.2" cy="1417.2" r="9.0"/><circle cx="1083.4" cy="1421.2" r="9.0"/><circle cx="1088" cy="1425.5" r="9.0"/><circle cx="1092.5" cy="1429.8" r="9.0"/><circle cx="1097" cy="1434.1" r="9.0"/><circle cx="1101.5" cy="1438.4" r="9.0"/><circle cx="1105.6" cy="1442.3" r="9.0"/><circle cx="1110.6" cy="1447.3" r="9.0"/><circle cx="1115.1" cy="1451.9" r="9.0"/><circle cx="1119.6" cy="1456.4" r="9.0"/><circle cx="1124.2" cy="1460.9" r="9.0"/><circle cx="1128.7" cy="1465.5" r="9.0"/><circle cx="1131.9" cy="1468.7" r="9.0"/><circle cx="1137.7" cy="1476.4" r="9.0"/><circle cx="1142.3" cy="1478.7" r="9.0"/><circle cx="1146.8" cy="1477.7" r="9.0"/><circle cx="1151.7" cy="1476.6" r="9.0"/><circle cx="1155.8" cy="1475.8" r="9.0"/><circle cx="1160.4" cy="1474.9" r="9.0"/><circle cx="1164.9" cy="1473.9" r="9.0"/><circle cx="1169.4" cy="1473" r="9.0"/><circle cx="1173.9" cy="1472" r="9.0"/><circle cx="1178.5" cy="1470.8" r="9.0"/><circle cx="1183" cy="1469.7" r="9.0"/><circle cx="1187.5" cy="1468.6" r="9.0"/><circle cx="1192" cy="1467.4" r="9.0"/><circle cx="1196.6" cy="1466.3" r="9.0"/><circle cx="1201.1" cy="1465.1" r="9.0"/><circle cx="1205.6" cy="1464" r="9.0"/><circle cx="1210.1" cy="1466.3" r="9.0"/><circle cx="1214.7" cy="1468.6" r="9.0"/><circle cx="1219.2" cy="1470.9" r="9.0"/><circle cx="1223.7" cy="1473.2" r="9.0"/><circle cx="1228.2" cy="1475.5" r="9.0"/><circle cx="1232.8" cy="1477.8" r="9.0"/><circle cx="1237.3" cy="1480.1" r="9.0"/><circle cx="1241.8" cy="1482.4" r="9.0"/><circle cx="1246.3" cy="1484.7" r="9.0"/><circle cx="1249.4" cy="1486.3" r="9.0"/><circle cx="1255.4" cy="1489.5" r="9.0"/><circle cx="1259.9" cy="1491.9" r="9.0"/><circle cx="1264.4" cy="1494.3" r="9.0"/><circle cx="1268.9" cy="1496.7" r="9.0"/><circle cx="1273.5" cy="1499.1" r="9.0"/><circle cx="1278" cy="1501.6" r="9.0"/><circle cx="1282.2" cy="1503.8" r="9.0"/><circle cx="1287" cy="1507" r="9.0"/><circle cx="1291.6" cy="1510.1" r="9.0"/><circle cx="1296.1" cy="1513.1" r="9.0"/><circle cx="1300.6" cy="1516.1" r="9.0"/><circle cx="1305.1" cy="1519.1" r="9.0"/><circle cx="1309.7" cy="1522.1" r="9.0"/><circle cx="1315" cy="1525.7" r="9.0"/><circle cx="1318.7" cy="1527.7" r="9.0"/><circle cx="1323.2" cy="1528.8" r="9.0"/><circle cx="1327.8" cy="1528.5" r="9.0"/><circle cx="1332.3" cy="1528.2" r="9.0"/><circle cx="1336.8" cy="1527.8" r="9.0"/><circle cx="1341.3" cy="1527.5" r="9.0"/><circle cx="1345.9" cy="1527.2" r="9.0"/><circle cx="1350.4" cy="1526.9" r="9.0"/><circle cx="1354.9" cy="1526.5" r="9.0"/><circle cx="1359.4" cy="1526.2" r="9.0"/><circle cx="1364" cy="1525.9" r="9.0"/><circle cx="1368.5" cy="1525.5" r="9.0"/><circle cx="1373" cy="1525.2" r="9.0"/><circle cx="1377.5" cy="1524.9" r="9.0"/><circle cx="1382.1" cy="1524.6" r="9.0"/><circle cx="1386.6" cy="1524.2" r="9.0"/><circle cx="1391.1" cy="1523.9" r="9.0"/><circle cx="1395.6" cy="1523.6" r="9.0"/><circle cx="1400.2" cy="1523.2" r="9.0"/><circle cx="1404.7" cy="1522.9" r="9.0"/><circle cx="1409.2" cy="1522.6" r="9.0"/><circle cx="1413.7" cy="1522.3" r="9.0"/><circle cx="1418.3" cy="1521.9" r="9.0"/><circle cx="1422.8" cy="1521.6" r="9.0"/><circle cx="1427.3" cy="1521.3" r="9.0"/><circle cx="1431.8" cy="1520.9" r="9.0"/><circle cx="1436.4" cy="1520.6" r="9.0"/><circle cx="1440.9" cy="1520.3" r="9.0"/><circle cx="1445.4" cy="1520" r="9.0"/><circle cx="1449.9" cy="1519.6" r="9.0"/><circle cx="1454.5" cy="1519.3" r="9.0"/><circle cx="1459" cy="1519" r="9.0"/><circle cx="1463.5" cy="1518.6" r="9.0"/><circle cx="1468" cy="1518.3" r="9.0"/><circle cx="1472.6" cy="1518" r="9.0"/><circle cx="1477.1" cy="1517.6" r="9.0"/><circle cx="1481.6" cy="1517.3" r="9.0"/><circle cx="1486" cy="1517" r="9.0"/><circle cx="1490.6" cy="1518.1" r="9.0"/><circle cx="1495.2" cy="1519.1" r="9.0"/><circle cx="1499.7" cy="1520.1" r="9.0"/><circle cx="1504.2" cy="1521.2" r="9.0"/><circle cx="1508.7" cy="1522.2" r="9.0"/><circle cx="1513.3" cy="1523.3" r="9.0"/><circle cx="1517.8" cy="1524.3" r="9.0"/><circle cx="1522.3" cy="1525.3" r="9.0"/><circle cx="1526.8" cy="1526.4" r="9.0"/><circle cx="1531.4" cy="1527.4" r="9.0"/><circle cx="1535.9" cy="1528.5" r="9.0"/><circle cx="1540.4" cy="1529.5" r="9.0"/><circle cx="1544.9" cy="1530.5" r="9.0"/><circle cx="1549.5" cy="1531.6" r="9.0"/><circle cx="1554" cy="1532.6" r="9.0"/><circle cx="1560" cy="1534" r="9.0"/><circle cx="1563" cy="1535" r="9.0"/><circle cx="1567.6" cy="1536.4" r="9.0"/><circle cx="1572.1" cy="1537.8" r="9.0"/><circle cx="1576.6" cy="1539.2" r="9.0"/><circle cx="1581.1" cy="1540.6" r="9.0"/><circle cx="1585.7" cy="1542" r="9.0"/><circle cx="1590.2" cy="1543.4" r="9.0"/><circle cx="1594.7" cy="1544.8" r="9.0"/><circle cx="1600" cy="1546.5" r="9.0"/><circle cx="1603.8" cy="1546.5" r="9.0"/><circle cx="1608.3" cy="1546.4" r="9.0"/><circle cx="1612.8" cy="1546.4" r="9.0"/><circle cx="1617.3" cy="1546.4" r="9.0"/><circle cx="1621.9" cy="1546.3" r="9.0"/><circle cx="1626.4" cy="1546.3" r="9.0"/><circle cx="1630.9" cy="1546.3" r="9.0"/><circle cx="1635.4" cy="1546.2" r="9.0"/><circle cx="1640" cy="1546.2" r="9.0"/><circle cx="1644.5" cy="1546.2" r="9.0"/><circle cx="1649" cy="1546.1" r="9.0"/><circle cx="1653.5" cy="1546.1" r="9.0"/><circle cx="1658.1" cy="1546.1" r="9.0"/><circle cx="1662.6" cy="1546" r="9.0"/><circle cx="1667.1" cy="1546" r="9.0"/><circle cx="1671.6" cy="1546" r="9.0"/><circle cx="1676.2" cy="1545.9" r="9.0"/><circle cx="1680.7" cy="1545.9" r="9.0"/><circle cx="1685.2" cy="1545.9" r="9.0"/><circle cx="1689.7" cy="1545.8" r="9.0"/><circle cx="1694.3" cy="1545.8" r="9.0"/><circle cx="1698.8" cy="1545.8" r="9.0"/><circle cx="1703.3" cy="1545.7" r="9.0"/><circle cx="1707.8" cy="1545.7" r="9.0"/><circle cx="1712.3" cy="1545.7" r="9.0"/><circle cx="1716.9" cy="1545.6" r="9.0"/><circle cx="1721.4" cy="1545.6" r="9.0"/><circle cx="1725.9" cy="1545.6" r="9.0"/><circle cx="1730.4" cy="1545.5" r="9.0"/><circle cx="1735" cy="1545.5" r="9.0"/><circle cx="1739.5" cy="1545.5" r="9.0"/><circle cx="1744" cy="1545.4" r="9.0"/><circle cx="1748.5" cy="1545.4" r="9.0"/><circle cx="1753.1" cy="1545.4" r="9.0"/><circle cx="1757.6" cy="1545.3" r="9.0"/><circle cx="1762.1" cy="1545.3" r="9.0"/><circle cx="1766.6" cy="1545.3" r="9.0"/><circle cx="1771.2" cy="1545.2" r="9.0"/><circle cx="1775" cy="1545.2" r="9.0"/></g><g fill="none" stroke="#000" stroke-width="1.5"><path d="M359.5 1603C361 1602.8 365.5 1602.5 368.5 1602C371.5 1601.5 374.6 1600.7 377.6 1600C380.6 1599.3 383.7 1598.8 386.7 1598C389.7 1597.2 392.7 1596.3 395.7 1595C398.7 1593.7 401.8 1592 404.8 1590C407.8 1588 410.8 1585.7 413.8 1583C416.8 1580.3 419.9 1577.5 422.9 1574C425.9 1570.5 429 1566.4 431.9 1562C434.8 1557.6 437.3 1553.1 440.2 1547.4C443.1 1541.7 446.2 1535.2 449.2 1527.6C452.2 1520 455 1511.3 458 1501.6C461 1491.9 464 1481.7 467 1469.5C470 1457.3 473.1 1443.8 476.2 1428.7C479.3 1413.6 482.7 1397.3 485.8 1378.7C488.9 1360.1 491.8 1340 494.8 1317.3C497.8 1294.6 500.5 1269.9 503.6 1242.6C506.7 1215.3 510.3 1186.1 513.5 1153.7C516.7 1121.3 519.5 1086.7 522.6 1048.3C525.7 1009.9 529 968.4 532 923.5C535 878.6 537.4 831.1 540.4 778.8C543.4 726.5 546.8 656 549.9 609.9C553 563.8 555.8 531 558.7 501.9C561.6 472.8 564.5 456.5 567.5 435.3C570.5 414.1 573.7 391.8 576.7 374.8C579.7 357.8 582.5 347.2 585.5 333.1C588.5 319 591.7 300.9 594.7 290.2C597.8 279.5 600.8 273.1 603.8 269C606.8 264.9 610 265.9 613 265.9C616 265.9 618.9 266.7 621.8 269C624.7 271.3 627.6 268 630.6 279.6C633.6 291.2 637 316.1 640 338.6C643 361.1 645.8 386.3 648.8 414.4C651.8 442.5 654.8 477.7 658 507.4C661.2 537.1 664.7 576 667.8 592.5C670.9 609 673.6 600.7 676.5 606.2C679.4 611.7 682 616.9 684.9 625.5C687.8 634.1 691 647.9 694.1 657.9C697.2 667.9 700.2 675.8 703.3 685.8C706.3 695.8 709.4 710.8 712.4 718C715.4 725.2 718.4 725.8 721.4 729C724.4 732.2 727.5 734.8 730.5 737C733.5 739.2 736.5 741 739.5 742C742.5 743 745.6 745.9 748.6 742.7C751.6 739.5 754.6 728.7 757.6 723C760.6 717.3 763.7 707.9 766.7 708.7C769.7 709.5 772.7 721 775.7 728C778.7 735 781.8 743 784.8 751C787.8 759 790.8 774.7 793.8 775.7C796.8 776.7 799.9 763.3 802.9 757C805.9 750.7 808.9 741.8 811.9 737.8C814.9 733.8 818 731.4 821 732.9C824 734.4 827 741 830 746.6C833 752.2 836.1 760.4 839.1 766.3C842.1 772.2 845.1 774.7 848.1 782C851.1 789.3 854.2 801.2 857.2 810C860.2 818.8 863.2 826.2 866.2 835C869.2 843.8 872.3 857.5 875.3 863C878.3 868.5 881.3 866.8 884.3 868C887.3 869.2 890.4 869.6 893.4 870C896.4 870.4 899.4 870.2 902.4 870.2C905.4 870.2 908.5 868.2 911.5 870.2C914.5 872.2 917.5 873.5 920.5 882.5C923.5 891.5 926.6 915.1 929.6 924.4C932.6 933.7 935.6 933.8 938.6 938.5C941.6 943.2 944.7 947.9 947.7 952.6C950.7 957.3 953.7 961.1 956.7 966.7C959.7 972.3 962.8 979.7 965.8 986C968.8 992.3 971.8 998.3 974.8 1004.5C977.8 1010.7 980.9 1016.5 983.9 1023C986.9 1029.5 989.9 1036.8 992.9 1043.7C995.9 1050.6 999 1057 1002 1064.3C1005 1071.5 1008 1079.4 1011 1087.2C1014 1095 1017.1 1103.1 1020.1 1110.9C1023.1 1118.7 1026.1 1129.1 1029.1 1133.8C1032.1 1138.5 1035.2 1135.6 1038.2 1139.1C1041.2 1142.6 1044.2 1149.8 1047.2 1154.9C1050.2 1160 1053.3 1164.6 1056.3 1169.5C1059.3 1174.3 1062.3 1179.1 1065.3 1183.9C1068.4 1188.8 1071.4 1193.6 1074.4 1198.4C1077.4 1203.2 1080.4 1208.1 1083.4 1212.9C1086.5 1217.7 1089.5 1222.6 1092.5 1227.4C1095.5 1232.2 1098.5 1237 1101.5 1241.9C1104.6 1246.7 1107.6 1251.5 1110.6 1256.3C1113.6 1261.2 1116.6 1266 1119.6 1270.8C1122.7 1275.6 1125.7 1280.5 1128.7 1285.3C1131.7 1290.1 1135 1293.7 1137.7 1299.8C1140.5 1305.9 1142.2 1318.3 1145 1322C1147.8 1325.7 1151.2 1322.9 1154.5 1322C1157.8 1321.1 1161.6 1318.1 1164.9 1316.4C1168.1 1314.7 1170.9 1313.1 1173.9 1311.5C1177 1309.9 1180 1308.3 1183 1306.6C1186 1305 1189 1303.4 1192 1301.8C1195 1300.1 1198.1 1298.5 1201.1 1296.9C1204.1 1295.3 1207.2 1293.6 1210.1 1292C1213 1290.4 1215.5 1288.3 1218.5 1287.5C1221.5 1286.7 1224.8 1286.7 1227.9 1287.5C1231 1288.3 1234.2 1290.7 1237.3 1292.3C1240.3 1293.8 1243.3 1295.4 1246.3 1296.9C1249.3 1298.4 1252.4 1300 1255.4 1301.5C1258.4 1303 1261.4 1304.6 1264.4 1306.1C1267.4 1307.7 1270.5 1309.2 1273.5 1310.7C1276.5 1312.3 1279.5 1313.8 1282.5 1315.3C1285.5 1316.9 1288.6 1318.4 1291.6 1319.9C1294.6 1321.5 1297.6 1323 1300.6 1324.6C1303.6 1326.1 1306.7 1327.6 1309.7 1329.2C1312.7 1330.7 1315.7 1332.2 1318.7 1333.8C1321.7 1335.3 1324.8 1336.9 1327.8 1338.4C1330.8 1339.9 1333.8 1342.6 1336.8 1343C1339.8 1343.4 1342.8 1341.4 1345.9 1340.6C1348.9 1339.8 1351.9 1339 1354.9 1338.2C1357.9 1337.4 1360.9 1336.6 1364 1335.8C1367 1335 1370 1334.2 1373 1333.4C1376 1332.6 1379 1331.8 1382.1 1331C1385.1 1330.2 1388.1 1329.4 1391.1 1328.6C1394.1 1327.8 1397.1 1327 1400.2 1326.2C1403.2 1325.4 1406.2 1324.6 1409.2 1323.8C1412.2 1323 1415.2 1322.2 1418.3 1321.4C1421.3 1320.6 1424.3 1319.8 1427.3 1319C1430.3 1318.2 1433.3 1317.4 1436.4 1316.6C1439.4 1315.8 1442.4 1315 1445.4 1314.2C1448.4 1313.4 1451.8 1312.5 1454.5 1311.8C1457.1 1311.1 1458.5 1308.7 1461.5 1309.9C1464.5 1311.1 1469.2 1316.3 1472.6 1319.1C1475.9 1321.9 1478.6 1324.1 1481.6 1326.6C1484.6 1329.1 1487.6 1331.7 1490.6 1334.2C1493.7 1336.7 1496.7 1339.2 1499.7 1341.7C1502.7 1344.2 1505.7 1346.7 1508.7 1349.2C1511.8 1351.7 1514.8 1354.3 1517.8 1356.8C1520.8 1359.3 1523.8 1361.8 1526.8 1364.3C1529.9 1366.8 1532.9 1369.3 1535.9 1371.8C1538.9 1374.3 1541.9 1376.9 1544.9 1379.4C1548 1381.9 1551 1384.4 1554 1386.9C1557 1389.4 1559.9 1391.8 1563 1394.4C1566.2 1397.1 1570.1 1401.5 1573.1 1402.8C1576.1 1404.1 1578.3 1402.4 1581.1 1402.2C1584 1402 1587.2 1401.8 1590.2 1401.6C1593.2 1401.4 1596.2 1401.2 1599.2 1401C1602.3 1400.8 1605.3 1400.6 1608.3 1400.3C1611.3 1400.1 1614.3 1399.9 1617.3 1399.7C1620.4 1399.5 1623.4 1399.3 1626.4 1399.1C1629.4 1398.9 1632.4 1398.7 1635.4 1398.4C1638.4 1398.2 1641.5 1398 1644.5 1397.8C1647.5 1397.6 1650.5 1397.4 1653.5 1397.2C1656.5 1397 1659.6 1396.8 1662.6 1396.6C1665.6 1396.3 1668.6 1396.1 1671.6 1395.9C1674.6 1395.6 1677.7 1395.4 1680.7 1395.2C1683.7 1394.9 1686.7 1394.7 1689.7 1394.4C1692.7 1394.2 1695.8 1393.9 1698.8 1393.7C1701.8 1393.5 1704.8 1393.2 1707.8 1393C1710.8 1392.7 1713.9 1392.5 1716.9 1392.3C1719.9 1392 1722.9 1391.8 1725.9 1391.5C1728.9 1391.3 1732 1391 1735 1390.8C1738 1390.6 1741 1390.3 1744 1390.1C1747 1389.8 1750.1 1389.6 1753.1 1389.4C1756.1 1389.1 1759.1 1388.9 1762.1 1388.6C1765.1 1388.4 1769.7 1388 1771.2 1387.9"/></g><path fill="#000" d="M359.5 1590.4l12.6 12.6l-12.6 12.6l-12.6 -12.6zM368.5 1589.4l12.6 12.6l-12.6 12.6l-12.6 -12.6zM377.6 1587.4l12.6 12.6l-12.6 12.6l-12.6 -12.6zM386.7 1585.4l12.6 12.6l-12.6 12.6l-12.6 -12.6zM395.7 1582.4l12.6 12.6l-12.6 12.6l-12.6 -12.6zM404.8 1577.4l12.6 12.6l-12.6 12.6l-12.6 -12.6zM413.8 1570.4l12.6 12.6l-12.6 12.6l-12.6 -12.6zM422.9 1561.4l12.6 12.6l-12.6 12.6l-12.6 -12.6zM431.9 1549.4l12.6 12.6l-12.6 12.6l-12.6 -12.6zM440.2 1534.8l12.6 12.6l-12.6 12.6l-12.6 -12.6zM449.2 1515l12.6 12.6l-12.6 12.6l-12.6 -12.6zM458 1489l12.6 12.6l-12.6 12.6l-12.6 -12.6zM467 1456.9l12.6 12.6l-12.6 12.6l-12.6 -12.6zM476.2 1416.1l12.6 12.6l-12.6 12.6l-12.6 -12.6zM485.8 1366.1l12.6 12.6l-12.6 12.6l-12.6 -12.6zM494.8 1304.7l12.6 12.6l-12.6 12.6l-12.6 -12.6zM503.6 1230l12.6 12.6l-12.6 12.6l-12.6 -12.6zM513.5 1141.1l12.6 12.6l-12.6 12.6l-12.6 -12.6zM522.6 1035.7l12.6 12.6l-12.6 12.6l-12.6 -12.6zM532 910.9l12.6 12.6l-12.6 12.6l-12.6 -12.6zM540.4 766.2l12.6 12.6l-12.6 12.6l-12.6 -12.6zM549.9 597.3l12.6 12.6l-12.6 12.6l-12.6 -12.6zM558.7 489.3l12.6 12.6l-12.6 12.6l-12.6 -12.6zM567.5 422.7l12.6 12.6l-12.6 12.6l-12.6 -12.6zM576.7 362.2l12.6 12.6l-12.6 12.6l-12.6 -12.6zM585.5 320.5l12.6 12.6l-12.6 12.6l-12.6 -12.6zM594.7 277.6l12.6 12.6l-12.6 12.6l-12.6 -12.6zM603.8 256.4l12.6 12.6l-12.6 12.6l-12.6 -12.6zM613 253.3l12.6 12.6l-12.6 12.6l-12.6 -12.6zM621.8 256.4l12.6 12.6l-12.6 12.6l-12.6 -12.6zM630.6 267l12.6 12.6l-12.6 12.6l-12.6 -12.6zM640 326l12.6 12.6l-12.6 12.6l-12.6 -12.6zM648.8 401.8l12.6 12.6l-12.6 12.6l-12.6 -12.6zM658 494.8l12.6 12.6l-12.6 12.6l-12.6 -12.6zM667.8 579.9l12.6 12.6l-12.6 12.6l-12.6 -12.6zM676.5 593.6l12.6 12.6l-12.6 12.6l-12.6 -12.6zM684.9 612.9l12.6 12.6l-12.6 12.6l-12.6 -12.6zM694.1 645.3l12.6 12.6l-12.6 12.6l-12.6 -12.6zM703.3 673.2l12.6 12.6l-12.6 12.6l-12.6 -12.6zM712.4 705.4l12.6 12.6l-12.6 12.6l-12.6 -12.6zM721.4 716.4l12.6 12.6l-12.6 12.6l-12.6 -12.6zM730.5 724.4l12.6 12.6l-12.6 12.6l-12.6 -12.6zM739.5 729.4l12.6 12.6l-12.6 12.6l-12.6 -12.6zM748.6 730.1l12.6 12.6l-12.6 12.6l-12.6 -12.6zM757.6 710.4l12.6 12.6l-12.6 12.6l-12.6 -12.6zM766.7 696.1l12.6 12.6l-12.6 12.6l-12.6 -12.6zM775.7 715.4l12.6 12.6l-12.6 12.6l-12.6 -12.6zM784.8 738.4l12.6 12.6l-12.6 12.6l-12.6 -12.6zM793.8 763.1l12.6 12.6l-12.6 12.6l-12.6 -12.6zM802.9 744.4l12.6 12.6l-12.6 12.6l-12.6 -12.6zM811.9 725.2l12.6 12.6l-12.6 12.6l-12.6 -12.6zM821 720.3l12.6 12.6l-12.6 12.6l-12.6 -12.6zM830 734l12.6 12.6l-12.6 12.6l-12.6 -12.6zM839.1 753.7l12.6 12.6l-12.6 12.6l-12.6 -12.6zM848.1 769.4l12.6 12.6l-12.6 12.6l-12.6 -12.6zM857.2 797.4l12.6 12.6l-12.6 12.6l-12.6 -12.6zM866.2 822.4l12.6 12.6l-12.6 12.6l-12.6 -12.6zM875.3 850.4l12.6 12.6l-12.6 12.6l-12.6 -12.6zM884.3 855.4l12.6 12.6l-12.6 12.6l-12.6 -12.6zM893.4 857.4l12.6 12.6l-12.6 12.6l-12.6 -12.6zM902.4 857.6l12.6 12.6l-12.6 12.6l-12.6 -12.6zM911.5 857.6l12.6 12.6l-12.6 12.6l-12.6 -12.6zM920.5 869.9l12.6 12.6l-12.6 12.6l-12.6 -12.6zM929.6 911.8l12.6 12.6l-12.6 12.6l-12.6 -12.6zM938.6 925.9l12.6 12.6l-12.6 12.6l-12.6 -12.6zM947.7 940l12.6 12.6l-12.6 12.6l-12.6 -12.6zM956.7 954.1l12.6 12.6l-12.6 12.6l-12.6 -12.6zM965.8 973.4l12.6 12.6l-12.6 12.6l-12.6 -12.6zM974.8 991.9l12.6 12.6l-12.6 12.6l-12.6 -12.6zM983.9 1010.4l12.6 12.6l-12.6 12.6l-12.6 -12.6zM992.9 1031.1l12.6 12.6l-12.6 12.6l-12.6 -12.6zM1002 1051.7l12.6 12.6l-12.6 12.6l-12.6 -12.6zM1011 1074.6l12.6 12.6l-12.6 12.6l-12.6 -12.6zM1020.1 1098.3l12.6 12.6l-12.6 12.6l-12.6 -12.6zM1029.1 1121.2l12.6 12.6l-12.6 12.6l-12.6 -12.6zM1038.2 1126.5l12.6 12.6l-12.6 12.6l-12.6 -12.6zM1047.2 1142.3l12.6 12.6l-12.6 12.6l-12.6 -12.6zM1056.3 1156.9l12.6 12.6l-12.6 12.6l-12.6 -12.6zM1065.3 1171.3l12.6 12.6l-12.6 12.6l-12.6 -12.6zM1074.4 1185.8l12.6 12.6l-12.6 12.6l-12.6 -12.6zM1083.4 1200.3l12.6 12.6l-12.6 12.6l-12.6 -12.6zM1092.5 1214.8l12.6 12.6l-12.6 12.6l-12.6 -12.6zM1101.5 1229.3l12.6 12.6l-12.6 12.6l-12.6 -12.6zM1110.6 1243.7l12.6 12.6l-12.6 12.6l-12.6 -12.6zM1119.6 1258.2l12.6 12.6l-12.6 12.6l-12.6 -12.6zM1128.7 1272.7l12.6 12.6l-12.6 12.6l-12.6 -12.6zM1137.7 1287.2l12.6 12.6l-12.6 12.6l-12.6 -12.6zM1145 1309.4l12.6 12.6l-12.6 12.6l-12.6 -12.6zM1154.5 1309.4l12.6 12.6l-12.6 12.6l-12.6 -12.6zM1164.9 1303.8l12.6 12.6l-12.6 12.6l-12.6 -12.6zM1173.9 1298.9l12.6 12.6l-12.6 12.6l-12.6 -12.6zM1183 1294l12.6 12.6l-12.6 12.6l-12.6 -12.6zM1192 1289.2l12.6 12.6l-12.6 12.6l-12.6 -12.6zM1201.1 1284.3l12.6 12.6l-12.6 12.6l-12.6 -12.6zM1210.1 1279.4l12.6 12.6l-12.6 12.6l-12.6 -12.6zM1218.5 1274.9l12.6 12.6l-12.6 12.6l-12.6 -12.6zM1227.9 1274.9l12.6 12.6l-12.6 12.6l-12.6 -12.6zM1237.3 1279.7l12.6 12.6l-12.6 12.6l-12.6 -12.6zM1246.3 1284.3l12.6 12.6l-12.6 12.6l-12.6 -12.6zM1255.4 1288.9l12.6 12.6l-12.6 12.6l-12.6 -12.6zM1264.4 1293.5l12.6 12.6l-12.6 12.6l-12.6 -12.6zM1273.5 1298.1l12.6 12.6l-12.6 12.6l-12.6 -12.6zM1282.5 1302.7l12.6 12.6l-12.6 12.6l-12.6 -12.6zM1291.6 1307.3l12.6 12.6l-12.6 12.6l-12.6 -12.6zM1300.6 1312l12.6 12.6l-12.6 12.6l-12.6 -12.6zM1309.7 1316.6l12.6 12.6l-12.6 12.6l-12.6 -12.6zM1318.7 1321.2l12.6 12.6l-12.6 12.6l-12.6 -12.6zM1327.8 1325.8l12.6 12.6l-12.6 12.6l-12.6 -12.6zM1336.8 1330.4l12.6 12.6l-12.6 12.6l-12.6 -12.6zM1345.9 1328l12.6 12.6l-12.6 12.6l-12.6 -12.6zM1354.9 1325.6l12.6 12.6l-12.6 12.6l-12.6 -12.6zM1364 1323.2l12.6 12.6l-12.6 12.6l-12.6 -12.6zM1373 1320.8l12.6 12.6l-12.6 12.6l-12.6 -12.6zM1382.1 1318.4l12.6 12.6l-12.6 12.6l-12.6 -12.6zM1391.1 1316l12.6 12.6l-12.6 12.6l-12.6 -12.6zM1400.2 1313.6l12.6 12.6l-12.6 12.6l-12.6 -12.6zM1409.2 1311.2l12.6 12.6l-12.6 12.6l-12.6 -12.6zM1418.3 1308.8l12.6 12.6l-12.6 12.6l-12.6 -12.6zM1427.3 1306.4l12.6 12.6l-12.6 12.6l-12.6 -12.6zM1436.4 1304l12.6 12.6l-12.6 12.6l-12.6 -12.6zM1445.4 1301.6l12.6 12.6l-12.6 12.6l-12.6 -12.6zM1454.5 1299.2l12.6 12.6l-12.6 12.6l-12.6 -12.6zM1461.5 1297.3l12.6 12.6l-12.6 12.6l-12.6 -12.6zM1472.6 1306.5l12.6 12.6l-12.6 12.6l-12.6 -12.6zM1481.6 1314l12.6 12.6l-12.6 12.6l-12.6 -12.6zM1490.6 1321.6l12.6 12.6l-12.6 12.6l-12.6 -12.6zM1499.7 1329.1l12.6 12.6l-12.6 12.6l-12.6 -12.6zM1508.7 1336.6l12.6 12.6l-12.6 12.6l-12.6 -12.6zM1517.8 1344.2l12.6 12.6l-12.6 12.6l-12.6 -12.6zM1526.8 1351.7l12.6 12.6l-12.6 12.6l-12.6 -12.6zM1535.9 1359.2l12.6 12.6l-12.6 12.6l-12.6 -12.6zM1544.9 1366.8l12.6 12.6l-12.6 12.6l-12.6 -12.6zM1554 1374.3l12.6 12.6l-12.6 12.6l-12.6 -12.6zM1563 1381.8l12.6 12.6l-12.6 12.6l-12.6 -12.6zM1573.1 1390.2l12.6 12.6l-12.6 12.6l-12.6 -12.6zM1581.1 1389.6l12.6 12.6l-12.6 12.6l-12.6 -12.6zM1590.2 1389l12.6 12.6l-12.6 12.6l-12.6 -12.6zM1599.2 1388.4l12.6 12.6l-12.6 12.6l-12.6 -12.6zM1608.3 1387.7l12.6 12.6l-12.6 12.6l-12.6 -12.6zM1617.3 1387.1l12.6 12.6l-12.6 12.6l-12.6 -12.6zM1626.4 1386.5l12.6 12.6l-12.6 12.6l-12.6 -12.6zM1635.4 1385.8l12.6 12.6l-12.6 12.6l-12.6 -12.6zM1644.5 1385.2l12.6 12.6l-12.6 12.6l-12.6 -12.6zM1653.5 1384.6l12.6 12.6l-12.6 12.6l-12.6 -12.6zM1662.6 1384l12.6 12.6l-12.6 12.6l-12.6 -12.6zM1671.6 1383.3l12.6 12.6l-12.6 12.6l-12.6 -12.6zM1680.7 1382.6l12.6 12.6l-12.6 12.6l-12.6 -12.6zM1689.7 1381.8l12.6 12.6l-12.6 12.6l-12.6 -12.6zM1698.8 1381.1l12.6 12.6l-12.6 12.6l-12.6 -12.6zM1707.8 1380.4l12.6 12.6l-12.6 12.6l-12.6 -12.6zM1716.9 1379.7l12.6 12.6l-12.6 12.6l-12.6 -12.6zM1725.9 1378.9l12.6 12.6l-12.6 12.6l-12.6 -12.6zM1735 1378.2l12.6 12.6l-12.6 12.6l-12.6 -12.6zM1744 1377.5l12.6 12.6l-12.6 12.6l-12.6 -12.6zM1753.1 1376.8l12.6 12.6l-12.6 12.6l-12.6 -12.6zM1762.1 1376l12.6 12.6l-12.6 12.6l-12.6 -12.6zM1771.2 1375.3l12.6 12.6l-12.6 12.6l-12.6 -12.6z"/><g fill="none" stroke="#000" stroke-width="1.5"><path d="M359.5 1604C361 1604 365.6 1604 368.6 1604C371.6 1604 374.6 1604 377.6 1604C380.6 1604 383.8 1604 386.7 1604C389.6 1604 392 1604 395 1604C398 1604 401.6 1603.8 404.8 1603.7C407.9 1603.7 410.8 1603.9 413.8 1603.5C416.8 1603.1 419.9 1602.3 422.9 1601.5C425.9 1600.7 428.9 1599.8 431.9 1598.5C434.9 1597.2 438 1595.8 441 1594C444 1592.2 447 1590.3 450 1588C453 1585.7 456 1582.5 459 1580C462 1577.5 465.1 1576.7 468.1 1573.2C471.2 1569.8 474.2 1563.9 477.3 1559.3C480.4 1554.7 483.7 1550.3 486.6 1545.5C489.5 1540.7 491.6 1536.1 494.6 1530.4C497.6 1524.7 501.3 1518.4 504.4 1511.4C507.5 1504.4 510.2 1496.6 513.1 1488.3C516 1480 518.7 1471.5 521.8 1461.8C524.9 1452.1 528.5 1441.6 531.5 1430.1C534.5 1418.6 537.1 1406.1 540.1 1392.8C543.1 1379.5 546.4 1362.7 549.4 1350.1C552.4 1337.5 555.2 1328.9 558.2 1317.3C561.2 1305.7 564.5 1293.6 567.5 1280.5C570.5 1267.4 573.5 1253.2 576.5 1238.7C579.5 1224.2 582.2 1206.7 585.3 1193.8C588.4 1180.9 591.8 1172.6 594.9 1161.2C598 1149.8 600.7 1138 603.7 1125.6C606.7 1113.1 609.9 1100 612.9 1086.5C615.9 1073 618.8 1057.8 621.7 1044.6C624.6 1031.3 627.5 1017.2 630.5 1007C633.5 996.8 636.5 991.6 639.6 983.6C642.7 975.6 645.8 967.4 648.9 959.3C652 951.2 655.3 944.3 658.3 935.2C661.3 926.1 663.9 916.5 666.8 904.7C669.7 892.9 672.9 874.6 675.9 864.6C678.9 854.6 681.9 850.3 684.9 844.8C687.9 839.3 691.1 837.3 694.1 831.6C697.1 825.9 699.9 818.6 702.9 810.7C705.9 802.8 709.2 793.2 712.2 784C715.2 774.8 718.2 764.1 721.2 755.6C724.2 747.1 727.2 740.5 730.2 733C733.2 725.5 736.1 716 739.2 710.6C742.4 705.2 745.8 704.2 749.1 700.7C752.4 697.2 755.9 693.2 759 689.7C762.1 686.2 764.9 682.5 767.8 679.8C770.7 677 773.7 675 776.6 673.2C779.5 671.4 782.6 670.8 785.4 668.9C788.2 667 790.6 667.6 793.5 661.8C796.4 656 799.6 642.8 802.6 634.3C805.6 625.8 808.3 609.1 811.3 611C814.3 612.9 817.5 633.5 820.6 645.8C823.7 658.1 826.8 671.2 829.8 684.9C832.8 698.5 835.7 713 838.8 727.7C841.9 742.5 845.3 762 848.4 773.4C851.5 784.8 854.5 789.4 857.6 796.3C860.8 803.2 864.2 808.3 867.3 814.8C870.4 821.3 873.2 828.4 876.1 835.4C879 842.4 882 849.1 884.9 857C887.8 864.9 890.3 873.6 893.2 882.6C896.1 891.6 899.2 901.2 902.2 910.9C905.2 920.5 908.2 924.2 911.2 940.5C914.2 956.8 917.1 990.8 920.1 1008.9C923.1 1027 926.2 1039.8 929.2 1049C932.2 1058.2 935.2 1059.1 938.2 1064.3C941.2 1069.5 944 1074 947 1080.1C950 1086.2 953.4 1094.9 956.4 1100.9C959.4 1106.9 962.2 1110.5 965.2 1116.2C968.2 1121.9 971.6 1128.5 974.7 1135.2C977.8 1141.9 980.8 1149.3 983.7 1156.6C986.7 1163.8 989.4 1171.1 992.4 1178.7C995.4 1186.3 998.7 1194.2 1001.7 1202.3C1004.8 1210.4 1007.8 1218.8 1010.7 1227.3C1013.6 1235.8 1016.4 1246.7 1019.3 1253C1022.2 1259.3 1024.9 1264 1028.1 1265.2C1031.3 1266.4 1035.3 1258.8 1038.4 1259.9C1041.5 1261 1043.9 1267.8 1046.7 1271.8C1049.5 1275.8 1052.3 1279.7 1055.3 1283.9C1058.3 1288.1 1061.4 1292.3 1064.5 1296.9C1067.6 1301.5 1070.8 1306.6 1073.9 1311.5C1077 1316.4 1080 1321.2 1083 1326.2C1086 1331.2 1088.8 1336.2 1091.8 1341.2C1094.8 1346.2 1098 1351.2 1101 1356.3C1104 1361.4 1106.9 1366.6 1110 1371.8C1113.1 1377 1116.5 1382.3 1119.5 1387.6C1122.5 1392.9 1125.2 1398.1 1128.2 1403.4C1131.2 1408.7 1134.4 1413.4 1137.2 1419.2C1140 1425 1142 1435 1145.1 1438.3C1148.2 1441.6 1153 1438.7 1155.8 1438.8C1158.6 1438.9 1158.9 1439.7 1161.9 1439.1C1164.9 1438.5 1170.4 1436.4 1173.9 1435.3C1177.4 1434.2 1180 1433.4 1183 1432.5C1186 1431.5 1189 1430.6 1192 1429.6C1195 1428.7 1198.1 1427.7 1201.1 1426.8C1204.1 1425.8 1207.5 1424.7 1210.1 1423.9C1212.7 1423.1 1213.6 1420.8 1216.6 1421.9C1219.6 1423 1224.8 1428.2 1228.2 1430.8C1231.7 1433.4 1233.7 1435 1237.3 1437.7C1240.8 1440.4 1246.4 1444.5 1249.4 1447C1252.4 1449.5 1252.9 1450.4 1255.4 1452.8C1257.9 1455.2 1261.4 1458.6 1264.4 1461.6C1267.4 1464.5 1270.5 1467.5 1273.5 1470.3C1276.4 1473.2 1279.2 1475.9 1282.2 1478.8C1285.2 1481.7 1288.5 1484.7 1291.6 1487.5C1294.6 1490.4 1297.6 1493.2 1300.6 1496C1303.6 1498.8 1306.7 1501.8 1309.7 1504.4C1312.7 1507.1 1315.3 1509.4 1318.7 1512C1322.1 1514.6 1327 1518.7 1330 1520C1333 1521.3 1334.2 1519.8 1336.8 1519.7C1339.5 1519.6 1342.8 1519.5 1345.9 1519.3C1348.9 1519.2 1351.9 1519.1 1354.9 1519C1357.9 1518.8 1360.9 1518.7 1364 1518.6C1367 1518.5 1370 1518.3 1373 1518.2C1376 1518.1 1379 1517.9 1382.1 1517.8C1385.1 1517.7 1388.1 1517.6 1391.1 1517.4C1394.1 1517.3 1397.1 1517.2 1400.2 1517.1C1403.2 1516.9 1406.2 1516.8 1409.2 1516.7C1412.2 1516.6 1415.2 1516.4 1418.3 1516.3C1421.3 1516.2 1424.3 1516.1 1427.3 1515.9C1430.3 1515.8 1433.3 1515.7 1436.4 1515.6C1439.4 1515.4 1442.4 1515.3 1445.4 1515.1C1448.4 1514.9 1451.4 1514.7 1454.5 1514.6C1457.5 1514.4 1460.5 1514.2 1463.5 1514.1C1466.5 1513.9 1469.5 1513.7 1472.6 1513.5C1475.6 1513.4 1478.6 1513.2 1481.6 1513C1484.6 1512.9 1487.6 1512.7 1490.6 1512.5C1493.7 1512.3 1496.7 1512.2 1499.7 1512C1502.7 1511.8 1505.7 1511.6 1508.7 1511.5C1511.8 1511.3 1515.3 1511.1 1517.8 1511C1520.3 1510.8 1521 1510 1524 1510.6C1527 1511.2 1532.4 1513.3 1535.9 1514.5C1539.4 1515.6 1541.9 1516.5 1544.9 1517.5C1548 1518.4 1551 1519.4 1554 1520.4C1557 1521.4 1560 1522.4 1563 1523.4C1566 1524.4 1569 1525.2 1572 1526.3C1575 1527.4 1578.1 1528.7 1581.1 1530C1584.2 1531.2 1587.2 1532.4 1590.2 1533.6C1593.2 1534.8 1596.2 1536 1599.2 1537.2C1602.3 1538.4 1604.8 1539.4 1608.3 1540.8C1611.7 1542.2 1617 1544.5 1620 1545.5C1623 1546.5 1623.8 1546.2 1626.4 1546.6C1629 1547.1 1632.4 1547.8 1635.4 1548.2C1638.4 1548.6 1641.5 1548.9 1644.5 1549C1647.5 1549.2 1650.5 1549 1653.5 1549.1C1656.5 1549.1 1659.6 1549.1 1662.6 1549.1C1665.6 1549.1 1668.6 1549.1 1671.6 1549.1C1674.6 1549.2 1677.7 1549.2 1680.7 1549.2C1683.7 1549.2 1686.7 1549.2 1689.7 1549.2C1692.7 1549.2 1695.8 1549.2 1698.8 1549.3C1701.8 1549.3 1704.8 1549.3 1707.8 1549.3C1710.8 1549.3 1713.9 1549.3 1716.9 1549.3C1719.9 1549.4 1722.9 1549.4 1725.9 1549.4C1728.9 1549.4 1732 1549.4 1735 1549.4C1738 1549.4 1741 1549.4 1744 1549.5C1747 1549.5 1750.1 1549.5 1753.1 1549.5C1756.1 1549.5 1759.1 1549.5 1762.1 1549.5C1765.1 1549.6 1769.7 1549.6 1771.2 1549.6"/></g><g fill="#000"><circle cx="359.5" cy="1604" r="10.2"/><circle cx="368.6" cy="1604" r="10.2"/><circle cx="377.6" cy="1604" r="10.2"/><circle cx="386.7" cy="1604" r="10.2"/><circle cx="395" cy="1604" r="10.2"/><circle cx="404.8" cy="1603.7" r="10.2"/><circle cx="413.8" cy="1603.5" r="10.2"/><circle cx="422.9" cy="1601.5" r="10.2"/><circle cx="431.9" cy="1598.5" r="10.2"/><circle cx="441" cy="1594" r="10.2"/><circle cx="450" cy="1588" r="10.2"/><circle cx="459" cy="1580" r="10.2"/><circle cx="468.1" cy="1573.2" r="10.2"/><circle cx="477.3" cy="1559.3" r="10.2"/><circle cx="486.6" cy="1545.5" r="10.2"/><circle cx="494.6" cy="1530.4" r="10.2"/><circle cx="504.4" cy="1511.4" r="10.2"/><circle cx="513.1" cy="1488.3" r="10.2"/><circle cx="521.8" cy="1461.8" r="10.2"/><circle cx="531.5" cy="1430.1" r="10.2"/><circle cx="540.1" cy="1392.8" r="10.2"/><circle cx="549.4" cy="1350.1" r="10.2"/><circle cx="558.2" cy="1317.3" r="10.2"/><circle cx="567.5" cy="1280.5" r="10.2"/><circle cx="576.5" cy="1238.7" r="10.2"/><circle cx="585.3" cy="1193.8" r="10.2"/><circle cx="594.9" cy="1161.2" r="10.2"/><circle cx="603.7" cy="1125.6" r="10.2"/><circle cx="612.9" cy="1086.5" r="10.2"/><circle cx="621.7" cy="1044.6" r="10.2"/><circle cx="630.5" cy="1007" r="10.2"/><circle cx="639.6" cy="983.6" r="10.2"/><circle cx="648.9" cy="959.3" r="10.2"/><circle cx="658.3" cy="935.2" r="10.2"/><circle cx="666.8" cy="904.7" r="10.2"/><circle cx="675.9" cy="864.6" r="10.2"/><circle cx="684.9" cy="844.8" r="10.2"/><circle cx="694.1" cy="831.6" r="10.2"/><circle cx="702.9" cy="810.7" r="10.2"/><circle cx="712.2" cy="784" r="10.2"/><circle cx="721.2" cy="755.6" r="10.2"/><circle cx="730.2" cy="733" r="10.2"/><circle cx="739.2" cy="710.6" r="10.2"/><circle cx="749.1" cy="700.7" r="10.2"/><circle cx="759" cy="689.7" r="10.2"/><circle cx="767.8" cy="679.8" r="10.2"/><circle cx="776.6" cy="673.2" r="10.2"/><circle cx="785.4" cy="668.9" r="10.2"/><circle cx="793.5" cy="661.8" r="10.2"/><circle cx="802.6" cy="634.3" r="10.2"/><circle cx="811.3" cy="611" r="10.2"/><circle cx="820.6" cy="645.8" r="10.2"/><circle cx="829.8" cy="684.9" r="10.2"/><circle cx="838.8" cy="727.7" r="10.2"/><circle cx="848.4" cy="773.4" r="10.2"/><circle cx="857.6" cy="796.3" r="10.2"/><circle cx="867.3" cy="814.8" r="10.2"/><circle cx="876.1" cy="835.4" r="10.2"/><circle cx="884.9" cy="857" r="10.2"/><circle cx="893.2" cy="882.6" r="10.2"/><circle cx="902.2" cy="910.9" r="10.2"/><circle cx="911.2" cy="940.5" r="10.2"/><circle cx="920.1" cy="1008.9" r="10.2"/><circle cx="929.2" cy="1049" r="10.2"/><circle cx="938.2" cy="1064.3" r="10.2"/><circle cx="947" cy="1080.1" r="10.2"/><circle cx="956.4" cy="1100.9" r="10.2"/><circle cx="965.2" cy="1116.2" r="10.2"/><circle cx="974.7" cy="1135.2" r="10.2"/><circle cx="983.7" cy="1156.6" r="10.2"/><circle cx="992.4" cy="1178.7" r="10.2"/><circle cx="1001.7" cy="1202.3" r="10.2"/><circle cx="1010.7" cy="1227.3" r="10.2"/><circle cx="1019.3" cy="1253" r="10.2"/><circle cx="1028.1" cy="1265.2" r="10.2"/><circle cx="1038.4" cy="1259.9" r="10.2"/><circle cx="1046.7" cy="1271.8" r="10.2"/><circle cx="1055.3" cy="1283.9" r="10.2"/><circle cx="1064.5" cy="1296.9" r="10.2"/><circle cx="1073.9" cy="1311.5" r="10.2"/><circle cx="1083" cy="1326.2" r="10.2"/><circle cx="1091.8" cy="1341.2" r="10.2"/><circle cx="1101" cy="1356.3" r="10.2"/><circle cx="1110" cy="1371.8" r="10.2"/><circle cx="1119.5" cy="1387.6" r="10.2"/><circle cx="1128.2" cy="1403.4" r="10.2"/><circle cx="1137.2" cy="1419.2" r="10.2"/><circle cx="1145.1" cy="1438.3" r="10.2"/><circle cx="1155.8" cy="1438.8" r="10.2"/><circle cx="1161.9" cy="1439.1" r="10.2"/><circle cx="1173.9" cy="1435.3" r="10.2"/><circle cx="1183" cy="1432.5" r="10.2"/><circle cx="1192" cy="1429.6" r="10.2"/><circle cx="1201.1" cy="1426.8" r="10.2"/><circle cx="1210.1" cy="1423.9" r="10.2"/><circle cx="1216.6" cy="1421.9" r="10.2"/><circle cx="1228.2" cy="1430.8" r="10.2"/><circle cx="1237.3" cy="1437.7" r="10.2"/><circle cx="1249.4" cy="1447" r="10.2"/><circle cx="1255.4" cy="1452.8" r="10.2"/><circle cx="1264.4" cy="1461.6" r="10.2"/><circle cx="1273.5" cy="1470.3" r="10.2"/><circle cx="1282.2" cy="1478.8" r="10.2"/><circle cx="1291.6" cy="1487.5" r="10.2"/><circle cx="1300.6" cy="1496" r="10.2"/><circle cx="1309.7" cy="1504.4" r="10.2"/><circle cx="1318.7" cy="1512" r="10.2"/><circle cx="1330" cy="1520" r="10.2"/><circle cx="1336.8" cy="1519.7" r="10.2"/><circle cx="1345.9" cy="1519.3" r="10.2"/><circle cx="1354.9" cy="1519" r="10.2"/><circle cx="1364" cy="1518.6" r="10.2"/><circle cx="1373" cy="1518.2" r="10.2"/><circle cx="1382.1" cy="1517.8" r="10.2"/><circle cx="1391.1" cy="1517.4" r="10.2"/><circle cx="1400.2" cy="1517.1" r="10.2"/><circle cx="1409.2" cy="1516.7" r="10.2"/><circle cx="1418.3" cy="1516.3" r="10.2"/><circle cx="1427.3" cy="1515.9" r="10.2"/><circle cx="1436.4" cy="1515.6" r="10.2"/><circle cx="1445.4" cy="1515.1" r="10.2"/><circle cx="1454.5" cy="1514.6" r="10.2"/><circle cx="1463.5" cy="1514.1" r="10.2"/><circle cx="1472.6" cy="1513.5" r="10.2"/><circle cx="1481.6" cy="1513" r="10.2"/><circle cx="1490.6" cy="1512.5" r="10.2"/><circle cx="1499.7" cy="1512" r="10.2"/><circle cx="1508.7" cy="1511.5" r="10.2"/><circle cx="1517.8" cy="1511" r="10.2"/><circle cx="1524" cy="1510.6" r="10.2"/><circle cx="1535.9" cy="1514.5" r="10.2"/><circle cx="1544.9" cy="1517.5" r="10.2"/><circle cx="1554" cy="1520.4" r="10.2"/><circle cx="1563" cy="1523.4" r="10.2"/><circle cx="1572" cy="1526.3" r="10.2"/><circle cx="1581.1" cy="1530" r="10.2"/><circle cx="1590.2" cy="1533.6" r="10.2"/><circle cx="1599.2" cy="1537.2" r="10.2"/><circle cx="1608.3" cy="1540.8" r="10.2"/><circle cx="1620" cy="1545.5" r="10.2"/><circle cx="1626.4" cy="1546.6" r="10.2"/><circle cx="1635.4" cy="1548.2" r="10.2"/><circle cx="1644.5" cy="1549" r="10.2"/><circle cx="1653.5" cy="1549.1" r="10.2"/><circle cx="1662.6" cy="1549.1" r="10.2"/><circle cx="1671.6" cy="1549.1" r="10.2"/><circle cx="1680.7" cy="1549.2" r="10.2"/><circle cx="1689.7" cy="1549.2" r="10.2"/><circle cx="1698.8" cy="1549.3" r="10.2"/><circle cx="1707.8" cy="1549.3" r="10.2"/><circle cx="1716.9" cy="1549.3" r="10.2"/><circle cx="1725.9" cy="1549.4" r="10.2"/><circle cx="1735" cy="1549.4" r="10.2"/><circle cx="1744" cy="1549.5" r="10.2"/><circle cx="1753.1" cy="1549.5" r="10.2"/><circle cx="1762.1" cy="1549.5" r="10.2"/><circle cx="1771.2" cy="1549.6" r="10.2"/></g><g fill="none" stroke="#000" stroke-width="1.5"><path d="M359.9 1604C363.6 1603.9 374.9 1604.1 382.4 1603.5C389.9 1602.9 397.5 1602.3 405 1600.5C412.5 1598.7 420.1 1596.3 427.6 1592.5C435.1 1588.7 442.7 1584.7 450.2 1577.5C457.7 1570.3 465.3 1562.4 472.8 1549.5C480.3 1536.6 487.9 1521.2 495.4 1500.3C502.9 1479.4 510.5 1456.2 518 1423.9C525.5 1391.6 533.1 1335.3 540.6 1306.7C548.1 1278.1 555.7 1267.2 563.2 1252.2C570.7 1237.2 578.3 1226.6 585.8 1216.7C593.3 1206.8 600.9 1197.1 608.4 1192.9C615.9 1188.7 623.5 1182.9 631 1191.5C638.5 1200.1 646.1 1239.3 653.6 1244.5C661.1 1249.7 668.7 1227 676.2 1222.7C683.7 1218.4 691.3 1219.5 698.8 1218.8C706.3 1218.1 713.9 1219.3 721.4 1218.8C728.9 1218.3 736.5 1220.7 744 1215.8C751.5 1210.9 759.1 1193.4 766.6 1189.4C774.1 1185.4 781.7 1195.5 789.2 1191.7C796.7 1187.9 804.3 1171.8 811.8 1166.5C819.3 1161.2 826.9 1159.4 834.4 1159.7C841.9 1160 849.5 1164.7 857 1168.5C864.5 1172.3 872.1 1181.1 879.6 1182.8C887.1 1184.5 894.7 1174.8 902.2 1178.6C909.7 1182.3 917.3 1193.9 924.8 1205.3C932.3 1216.7 939.9 1233.9 947.4 1246.8C954.9 1259.7 962.5 1269.8 970 1282.7C977.5 1295.6 985.1 1309.5 992.6 1324.4C1000.1 1339.3 1007.7 1361.1 1015.2 1372.3C1022.7 1383.5 1030.3 1391.2 1037.8 1391.8C1045.3 1392.4 1052.9 1376.2 1060.4 1375.9C1067.9 1375.6 1075.5 1384.5 1083 1389.7C1090.5 1394.9 1098.1 1400.9 1105.6 1406.9C1113.1 1412.9 1120.7 1419.2 1128.2 1425.5C1135.7 1431.8 1143.3 1438.6 1150.8 1444.8C1158.3 1451 1165.9 1460.3 1173.4 1462.5C1180.9 1464.7 1188.5 1459.2 1196 1458.1C1203.5 1457 1211.1 1454.8 1218.6 1456C1226.1 1457.2 1233.7 1462.4 1241.2 1465.5C1248.7 1468.6 1256.3 1471.5 1263.8 1474.5C1271.3 1477.5 1278.9 1480.4 1286.4 1483.5C1293.9 1486.6 1301.5 1490.4 1309 1493.1C1316.5 1495.8 1324.1 1499.2 1331.6 1499.7C1339.1 1500.2 1346.7 1496.9 1354.2 1495.8C1361.7 1494.7 1369.3 1494 1376.8 1493.1C1384.3 1492.2 1391.9 1491.2 1399.4 1490.5C1406.9 1489.8 1414.5 1489.9 1422 1489.2C1429.5 1488.5 1437.1 1487.3 1444.6 1486.6C1452.1 1485.8 1459.7 1485.5 1467.2 1484.7C1474.7 1484 1482.3 1481.8 1489.8 1482.1C1497.3 1482.4 1504.9 1484.8 1512.4 1486.6C1519.9 1488.3 1527.5 1490.4 1535 1492.6C1542.5 1494.8 1550.1 1497.2 1557.6 1499.7C1565.1 1502.2 1572.7 1505 1580.2 1507.6C1587.7 1510.2 1595.3 1514 1602.8 1515.5C1610.3 1517 1617.9 1516.8 1625.4 1516.8C1632.9 1516.8 1640.5 1515.7 1648 1515.5C1655.5 1515.3 1663.1 1515.7 1670.6 1515.5C1678.1 1515.3 1685.7 1514.4 1693.2 1514.1C1700.7 1513.8 1708.3 1513.8 1715.8 1513.6C1723.3 1513.4 1730.9 1513 1738.4 1512.8C1745.9 1512.5 1757.2 1512.2 1761 1512.1"/></g><path fill="#000" d="M359.9 1587.3L374.4 1612.4L345.4 1612.4ZM382.4 1586.8L396.9 1611.9L367.9 1611.9ZM405 1583.8L419.5 1608.9L390.5 1608.9ZM427.6 1575.8L442.1 1600.9L413.1 1600.9ZM450.2 1560.8L464.7 1585.9L435.7 1585.9ZM472.8 1532.8L487.3 1557.9L458.3 1557.9ZM495.4 1483.6L509.9 1508.7L480.9 1508.7ZM518 1407.2L532.5 1432.3L503.5 1432.3ZM540.6 1290L555.1 1315.1L526.1 1315.1ZM563.2 1235.5L577.7 1260.6L548.7 1260.6ZM585.8 1200L600.3 1225.1L571.3 1225.1ZM608.4 1176.2L622.9 1201.3L593.9 1201.3ZM631 1174.8L645.5 1199.9L616.5 1199.9ZM653.6 1227.8L668.1 1252.9L639.1 1252.9ZM676.2 1206L690.7 1231.1L661.7 1231.1ZM698.8 1202.1L713.3 1227.2L684.3 1227.2ZM721.4 1202.1L735.9 1227.2L706.9 1227.2ZM744 1199.1L758.5 1224.2L729.5 1224.2ZM766.6 1172.7L781.1 1197.8L752.1 1197.8ZM789.2 1175L803.7 1200.1L774.7 1200.1ZM811.8 1149.8L826.3 1174.9L797.3 1174.9ZM834.4 1143L848.9 1168.1L819.9 1168.1ZM857 1151.8L871.5 1176.9L842.5 1176.9ZM879.6 1166.1L894.1 1191.2L865.1 1191.2ZM902.2 1161.9L916.7 1187L887.7 1187ZM924.8 1188.6L939.3 1213.7L910.3 1213.7ZM947.4 1230.1L961.9 1255.2L932.9 1255.2ZM970 1266L984.5 1291.1L955.5 1291.1ZM992.6 1307.7L1007.1 1332.8L978.1 1332.8ZM1015.2 1355.6L1029.7 1380.7L1000.7 1380.7ZM1037.8 1375.1L1052.3 1400.2L1023.3 1400.2ZM1060.4 1359.2L1074.9 1384.3L1045.9 1384.3ZM1083 1373L1097.5 1398.1L1068.5 1398.1ZM1105.6 1390.2L1120.1 1415.3L1091.1 1415.3ZM1128.2 1408.8L1142.7 1433.9L1113.7 1433.9ZM1150.8 1428.1L1165.3 1453.2L1136.3 1453.2ZM1173.4 1445.8L1187.9 1470.9L1158.9 1470.9ZM1196 1441.4L1210.5 1466.5L1181.5 1466.5ZM1218.6 1439.3L1233.1 1464.4L1204.1 1464.4ZM1241.2 1448.8L1255.7 1473.9L1226.7 1473.9ZM1263.8 1457.8L1278.3 1482.9L1249.3 1482.9ZM1286.4 1466.8L1300.9 1491.9L1271.9 1491.9ZM1309 1476.4L1323.5 1501.5L1294.5 1501.5ZM1331.6 1483L1346.1 1508.1L1317.1 1508.1ZM1354.2 1479.1L1368.7 1504.2L1339.7 1504.2ZM1376.8 1476.4L1391.3 1501.5L1362.3 1501.5ZM1399.4 1473.8L1413.9 1498.9L1384.9 1498.9ZM1422 1472.5L1436.5 1497.6L1407.5 1497.6ZM1444.6 1469.9L1459.1 1495L1430.1 1495ZM1467.2 1468L1481.7 1493.1L1452.7 1493.1ZM1489.8 1465.4L1504.3 1490.5L1475.3 1490.5ZM1512.4 1469.9L1526.9 1495L1497.9 1495ZM1535 1475.9L1549.5 1501L1520.5 1501ZM1557.6 1483L1572.1 1508.1L1543.1 1508.1ZM1580.2 1490.9L1594.7 1516L1565.7 1516ZM1602.8 1498.8L1617.3 1523.9L1588.3 1523.9ZM1625.4 1500.1L1639.9 1525.2L1610.9 1525.2ZM1648 1498.8L1662.5 1523.9L1633.5 1523.9ZM1670.6 1498.8L1685.1 1523.9L1656.1 1523.9ZM1693.2 1497.4L1707.7 1522.5L1678.7 1522.5ZM1715.8 1496.9L1730.3 1522L1701.3 1522ZM1738.4 1496.1L1752.9 1521.2L1723.9 1521.2ZM1761 1495.4L1775.5 1520.5L1746.5 1520.5Z"/></g>
<g stroke="#000" stroke-width="2"><line x1="1287.8" y1="103.8" x2="1424.5" y2="103.8"/><line x1="1287.8" y1="178.4" x2="1424.5" y2="178.4"/><line x1="1287.8" y1="253.7" x2="1424.5" y2="253.7"/><line x1="1287.8" y1="329.4" x2="1424.5" y2="329.4"/><line x1="1287.8" y1="403.8" x2="1424.5" y2="403.8"/></g><path fill="#000" d="M1356.2 91.2l12.6 12.6l-12.6 12.6l-12.6 -12.6z"/><circle cx="1356.2" cy="178.4" r="9.0" fill="#fff" stroke="#000" stroke-width="2"/><circle cx="1356.2" cy="253.7" r="10.2" fill="#000"/><path fill="#000" d="M1356.2 312.7L1370.7 337.8L1341.7 337.8Z"/><path fill="#fff" stroke="#000" stroke-width="2" d="M1356.2 392.3L1359.6 399.9L1367.9 400.8L1361.7 406.4L1363.4 414.6L1356.2 410.4L1349 414.6L1350.7 406.4L1344.5 400.8L1352.8 399.9Z"/>
<line x1="1238.7" y1="703.7" x2="1170" y2="814" stroke="#000" stroke-width="1.8"/>
<path d="M1160.7 829.3L1169.8 797.3L1184.5 806.3Z" fill="#000"/>
<text x="1438.35" y="123.65" style="font-size:59.10px;font-weight:normal;font-style:italic" textLength="199.09" lengthAdjust="spacingAndGlyphs">Si-PILC</text>
<text x="1438.15" y="197.55" style="font-size:61.20px;font-weight:normal;font-style:italic" textLength="210.02" lengthAdjust="spacingAndGlyphs">Zr-PILC</text>
<text x="1440.45" y="272.90" style="font-size:59.43px;font-weight:normal;font-style:italic" textLength="205.38" lengthAdjust="spacingAndGlyphs">Al-PILC</text>
<text x="1438.50" y="348.15" style="font-size:61.20px;font-weight:normal;font-style:italic" textLength="216.87" lengthAdjust="spacingAndGlyphs">Fe-PILC</text>
<text x="1438.75" y="423.50" style="font-size:57.80px;font-weight:normal;font-style:italic" textLength="317.40" lengthAdjust="spacingAndGlyphs">Natural Clay</text>
<text x="1187.40" y="679.80" style="font-size:61.50px;font-weight:normal;font-style:normal" textLength="196.64" lengthAdjust="spacingAndGlyphs">1.31 nm</text>
<text x="957.00" y="1761.10" style="font-size:60.76px;font-weight:bold;font-style:italic" textLength="41.64" lengthAdjust="spacingAndGlyphs">w</text>
<text x="997.55" y="1787.55" style="font-size:38.00px;font-weight:bold;font-style:italic" textLength="22.07" lengthAdjust="spacingAndGlyphs">p</text>
<text x="1037.25" y="1762.80" style="font-size:62.46px;font-weight:normal;font-style:italic" textLength="22.55" lengthAdjust="spacingAndGlyphs">(</text>
<text x="1057.10" y="1762.10" style="font-size:60.76px;font-weight:bold;font-style:italic" textLength="89.83" lengthAdjust="spacingAndGlyphs">nm</text>
<text x="1141.40" y="1762.80" style="font-size:62.46px;font-weight:normal;font-style:italic" textLength="22.62" lengthAdjust="spacingAndGlyphs">)</text>
<text transform="translate(95.50 1115.25) rotate(-90)" style="font-size:71.90px;font-weight:bold;font-style:italic" textLength="190.89" lengthAdjust="spacingAndGlyphs">dV/dw</text>
<text transform="translate(125.30 926.20) rotate(-90)" style="font-size:45.84px;font-weight:bold;font-style:italic" textLength="24.32" lengthAdjust="spacingAndGlyphs">p</text>
<text transform="translate(95.45 882.00) rotate(-90)" style="font-size:68.96px;font-weight:normal;font-style:italic" textLength="25.73" lengthAdjust="spacingAndGlyphs">(</text>
<text transform="translate(96.45 858.70) rotate(-90)" style="font-size:71.35px;font-weight:bold;font-style:italic" textLength="89.54" lengthAdjust="spacingAndGlyphs">cm</text>
<text transform="translate(56.20 770.95) rotate(-90)" style="font-size:44.00px;font-weight:bold;font-style:italic" textLength="22.48" lengthAdjust="spacingAndGlyphs">3</text>
<text transform="translate(96.30 731.85) rotate(-90)" style="font-size:72.67px;font-weight:bold;font-style:italic" textLength="42.33" lengthAdjust="spacingAndGlyphs">g</text>
<text transform="translate(57.70 694.65) rotate(-90)" style="font-size:45.84px;font-weight:bold;font-style:italic" textLength="40.65" lengthAdjust="spacingAndGlyphs">-1</text>
<text transform="translate(96.75 657.05) rotate(-90)" style="font-size:77.01px;font-weight:bold;font-style:italic" textLength="52.83" lengthAdjust="spacingAndGlyphs">Å</text>
<text transform="translate(57.70 607.30) rotate(-90)" style="font-size:45.84px;font-weight:bold;font-style:italic" textLength="39.40" lengthAdjust="spacingAndGlyphs">-1</text>
<text transform="translate(94.95 574.60) rotate(-90)" style="font-size:70.01px;font-weight:normal;font-style:italic" textLength="25.82" lengthAdjust="spacingAndGlyphs">)</text>
<text x="147.2" y="1620.80" style="font-size:63px" textLength="134.5" lengthAdjust="spacingAndGlyphs">0.000</text>
<text x="147.2" y="1399.54" style="font-size:63px" textLength="134.5" lengthAdjust="spacingAndGlyphs">0.005</text>
<text x="147.2" y="1178.28" style="font-size:63px" textLength="134.5" lengthAdjust="spacingAndGlyphs">0.010</text>
<text x="147.2" y="957.02" style="font-size:63px" textLength="134.5" lengthAdjust="spacingAndGlyphs">0.015</text>
<text x="147.2" y="735.76" style="font-size:63px" textLength="134.5" lengthAdjust="spacingAndGlyphs">0.020</text>
<text x="147.2" y="514.50" style="font-size:63px" textLength="134.5" lengthAdjust="spacingAndGlyphs">0.025</text>
<text x="147.2" y="293.24" style="font-size:63px" textLength="134.5" lengthAdjust="spacingAndGlyphs">0.030</text>
<text x="147.2" y="71.98" style="font-size:63px" textLength="134.5" lengthAdjust="spacingAndGlyphs">0.035</text>
<text x="325.10" y="1693" text-anchor="middle" style="font-size:61px" textLength="74.9" lengthAdjust="spacingAndGlyphs">0.4</text>
<text x="687.15" y="1693" text-anchor="middle" style="font-size:61px" textLength="74.9" lengthAdjust="spacingAndGlyphs">0.8</text>
<text x="1049.20" y="1693" text-anchor="middle" style="font-size:61px" textLength="74.9" lengthAdjust="spacingAndGlyphs">1.2</text>
<text x="1411.25" y="1693" text-anchor="middle" style="font-size:61px" textLength="74.9" lengthAdjust="spacingAndGlyphs">1.6</text>
<text x="1773.30" y="1693" text-anchor="middle" style="font-size:61px" textLength="74.9" lengthAdjust="spacingAndGlyphs">2.0</text>
</svg>
</body></html>
